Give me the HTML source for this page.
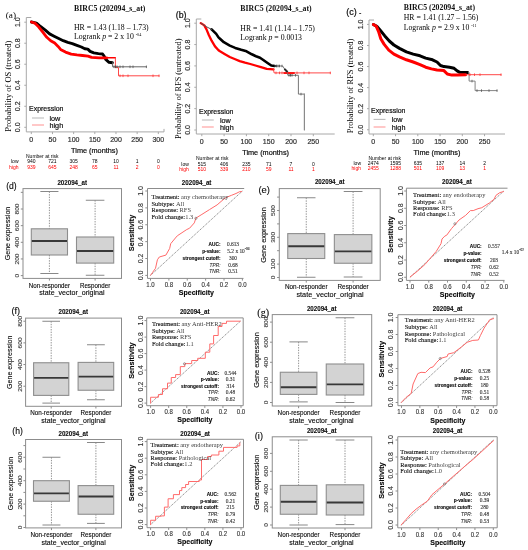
<!DOCTYPE html>
<html><head><meta charset="utf-8"><title>BIRC5 figure</title>
<style>
html,body{margin:0;padding:0;background:#fff;}
body{width:528px;height:550px;overflow:hidden;}
svg{display:block;filter:blur(0.3px);}
.S{font-family:"Liberation Sans", sans-serif;}
text{stroke-width:0.12px;}
.km text{stroke-width:0;}
.km text.S{stroke-width:0.2px;}
.km text.S[font-size="5"]{stroke-width:0;}
.R{font-family:"Liberation Serif", serif;}
</style></head>
<body>
<svg width="528" height="550" viewBox="0 0 528 550">
<rect x="0" y="0" width="528" height="550" fill="#fff"/>
<g class="km">
<line x1="26.30" y1="17.50" x2="26.30" y2="131.90" stroke="#a8a8a8" stroke-width="1"/>
<line x1="26.30" y1="17.50" x2="31.30" y2="17.50" stroke="#a8a8a8" stroke-width="1"/>
<line x1="26.30" y1="131.90" x2="164.00" y2="131.90" stroke="#a8a8a8" stroke-width="1"/>
<line x1="164.00" y1="131.90" x2="164.00" y2="128.90" stroke="#a8a8a8" stroke-width="1"/>
<line x1="24.30" y1="127.30" x2="26.30" y2="127.30" stroke="#a8a8a8" stroke-width="1"/>
<text x="0" y="0" transform="translate(17.50 127.30) rotate(-90)" class="S" font-size="7" text-anchor="middle" fill="#333" stroke="#333" dominant-baseline="central">0.0</text>
<line x1="24.30" y1="106.28" x2="26.30" y2="106.28" stroke="#a8a8a8" stroke-width="1"/>
<text x="0" y="0" transform="translate(17.50 106.28) rotate(-90)" class="S" font-size="7" text-anchor="middle" fill="#333" stroke="#333" dominant-baseline="central">0.2</text>
<line x1="24.30" y1="85.26" x2="26.30" y2="85.26" stroke="#a8a8a8" stroke-width="1"/>
<text x="0" y="0" transform="translate(17.50 85.26) rotate(-90)" class="S" font-size="7" text-anchor="middle" fill="#333" stroke="#333" dominant-baseline="central">0.4</text>
<line x1="24.30" y1="64.24" x2="26.30" y2="64.24" stroke="#a8a8a8" stroke-width="1"/>
<text x="0" y="0" transform="translate(17.50 64.24) rotate(-90)" class="S" font-size="7" text-anchor="middle" fill="#333" stroke="#333" dominant-baseline="central">0.6</text>
<line x1="24.30" y1="43.22" x2="26.30" y2="43.22" stroke="#a8a8a8" stroke-width="1"/>
<text x="0" y="0" transform="translate(17.50 43.22) rotate(-90)" class="S" font-size="7" text-anchor="middle" fill="#333" stroke="#333" dominant-baseline="central">0.8</text>
<line x1="24.30" y1="22.20" x2="26.30" y2="22.20" stroke="#a8a8a8" stroke-width="1"/>
<text x="0" y="0" transform="translate(17.50 22.20) rotate(-90)" class="S" font-size="7" text-anchor="middle" fill="#333" stroke="#333" dominant-baseline="central">1.0</text>
<line x1="31.30" y1="131.90" x2="31.30" y2="134.10" stroke="#a8a8a8" stroke-width="1"/>
<text x="31.30" y="139.40" class="S" font-size="7" text-anchor="middle" fill="#333" stroke="#333" dominant-baseline="central">0</text>
<text x="31.30" y="161.20" class="S" font-size="5" text-anchor="middle" stroke="#222" dominant-baseline="central">940</text>
<text x="31.30" y="166.50" class="S" font-size="5" text-anchor="middle" fill="#f00" stroke="#f00" dominant-baseline="central">939</text>
<line x1="52.47" y1="131.90" x2="52.47" y2="134.10" stroke="#a8a8a8" stroke-width="1"/>
<text x="52.47" y="139.40" class="S" font-size="7" text-anchor="middle" fill="#333" stroke="#333" dominant-baseline="central">50</text>
<text x="52.47" y="161.20" class="S" font-size="5" text-anchor="middle" stroke="#222" dominant-baseline="central">721</text>
<text x="52.47" y="166.50" class="S" font-size="5" text-anchor="middle" fill="#f00" stroke="#f00" dominant-baseline="central">645</text>
<line x1="73.64" y1="131.90" x2="73.64" y2="134.10" stroke="#a8a8a8" stroke-width="1"/>
<text x="73.64" y="139.40" class="S" font-size="7" text-anchor="middle" fill="#333" stroke="#333" dominant-baseline="central">100</text>
<text x="73.64" y="161.20" class="S" font-size="5" text-anchor="middle" stroke="#222" dominant-baseline="central">305</text>
<text x="73.64" y="166.50" class="S" font-size="5" text-anchor="middle" fill="#f00" stroke="#f00" dominant-baseline="central">248</text>
<line x1="94.81" y1="131.90" x2="94.81" y2="134.10" stroke="#a8a8a8" stroke-width="1"/>
<text x="94.81" y="139.40" class="S" font-size="7" text-anchor="middle" fill="#333" stroke="#333" dominant-baseline="central">150</text>
<text x="94.81" y="161.20" class="S" font-size="5" text-anchor="middle" stroke="#222" dominant-baseline="central">78</text>
<text x="94.81" y="166.50" class="S" font-size="5" text-anchor="middle" fill="#f00" stroke="#f00" dominant-baseline="central">65</text>
<line x1="115.98" y1="131.90" x2="115.98" y2="134.10" stroke="#a8a8a8" stroke-width="1"/>
<text x="115.98" y="139.40" class="S" font-size="7" text-anchor="middle" fill="#333" stroke="#333" dominant-baseline="central">200</text>
<text x="115.98" y="161.20" class="S" font-size="5" text-anchor="middle" stroke="#222" dominant-baseline="central">10</text>
<text x="115.98" y="166.50" class="S" font-size="5" text-anchor="middle" fill="#f00" stroke="#f00" dominant-baseline="central">11</text>
<line x1="137.15" y1="131.90" x2="137.15" y2="134.10" stroke="#a8a8a8" stroke-width="1"/>
<text x="137.15" y="139.40" class="S" font-size="7" text-anchor="middle" fill="#333" stroke="#333" dominant-baseline="central">250</text>
<text x="137.15" y="161.20" class="S" font-size="5" text-anchor="middle" stroke="#222" dominant-baseline="central">1</text>
<text x="137.15" y="166.50" class="S" font-size="5" text-anchor="middle" fill="#f00" stroke="#f00" dominant-baseline="central">2</text>
<line x1="158.32" y1="131.90" x2="158.32" y2="134.10" stroke="#a8a8a8" stroke-width="1"/>
<text x="158.32" y="139.40" class="S" font-size="7" text-anchor="middle" fill="#333" stroke="#333" dominant-baseline="central">300</text>
<text x="158.32" y="161.20" class="S" font-size="5" text-anchor="middle" stroke="#222" dominant-baseline="central">0</text>
<text x="158.32" y="166.50" class="S" font-size="5" text-anchor="middle" fill="#f00" stroke="#f00" dominant-baseline="central">0</text>
<text x="18.50" y="161.20" class="S" font-size="5" text-anchor="end" stroke="#222" dominant-baseline="central">low</text>
<text x="18.50" y="166.50" class="S" font-size="5" text-anchor="end" fill="#f00" stroke="#f00" dominant-baseline="central">high</text>
<text x="26.00" y="156.00" class="S" font-size="5" stroke="#222" dominant-baseline="central">Number at risk</text>
<text x="94.50" y="150.00" class="S" font-size="7.3" text-anchor="middle" stroke="#222" dominant-baseline="central">Time (months)</text>
<text x="0" y="0" transform="translate(8.30 86.20) rotate(-90)" class="R" font-size="8.5" text-anchor="middle" stroke="#222" dominant-baseline="central">Probability of OS (treated)</text>
<text x="0" y="0" transform="translate(29.00 108.50) scale(0.930 1)" class="S" font-size="7.5" stroke="#222" dominant-baseline="central">Expression</text>
<line x1="32.00" y1="118.00" x2="44.00" y2="118.00" stroke="#bdbdbd" stroke-width="1.1"/>
<line x1="32.00" y1="125.00" x2="44.00" y2="125.00" stroke="#ff9c9c" stroke-width="1.1"/>
<text x="0" y="0" transform="translate(49.50 118.00) scale(0.950 1)" class="S" font-size="7.6" stroke="#222" dominant-baseline="central">low</text>
<text x="0" y="0" transform="translate(49.50 125.00) scale(0.950 1)" class="S" font-size="7.6" stroke="#222" dominant-baseline="central">high</text>
<text x="0" y="0" transform="translate(74.00 8.30) scale(0.930 1)" class="R" font-size="8.4" font-weight="bold" fill="#111" stroke="#111" dominant-baseline="central">BIRC5 (202094_s_at)</text>
<text x="0" y="0" transform="translate(74.00 27.00) scale(0.925 1)" class="R" font-size="8.4" stroke="#222" dominant-baseline="central">HR = 1.43 (1.18 – 1.73)</text>
<text x="0" y="0" transform="translate(74.00 36.30) scale(0.925 1)" class="R" font-size="8.4" stroke="#222" dominant-baseline="central">Logrank <tspan font-style="italic">p</tspan> = 2 x 10 <tspan font-size="4.5" dy="-2.5">-04</tspan></text>
<text x="5.80" y="14.60" class="R" font-size="9.2" stroke="#222" dominant-baseline="central">(a)</text>
<polyline points="31.40,22.00 36.50,23.10 40.50,26.50 45.00,29.90 49.60,33.90 54.10,36.20 58.70,38.50 63.20,40.70 67.80,42.40 72.30,43.60 76.90,45.30 81.40,47.00 84.80,48.70 87.80,49.10 90.10,51.40 93.80,52.90 98.40,53.60 102.60,54.00 103.70,55.50 106.00,59.70 109.00,62.30 112.40,62.70" fill="none" stroke="#000" stroke-width="2.9" stroke-linejoin="round" stroke-linecap="round"/>
<polyline points="31.40,22.00 34.80,23.10 38.80,27.10 42.80,32.20 46.80,37.30 50.70,40.70 54.70,43.00 58.10,46.40 61.00,49.80 65.50,52.10 71.20,54.10 76.90,54.90 82.50,55.50 88.00,56.10 91.60,57.40 99.20,57.80 106.70,57.80" fill="none" stroke="#f00" stroke-width="2.8" stroke-linejoin="round" stroke-linecap="round"/>
<polyline points="106.70,57.80 115.20,57.80" fill="none" stroke="#f00" stroke-width="1.6" stroke-linejoin="round" stroke-linecap="round"/>
<polyline points="112.60,62.70 112.60,66.80 146.40,66.80" fill="none" stroke="#666" stroke-width="1.0" stroke-linejoin="round" stroke-linecap="round" stroke-linecap="butt" stroke-linejoin="miter"/>
<polyline points="115.40,57.80 115.40,67.60 118.50,67.60 118.50,75.80 159.00,75.80" fill="none" stroke="#f33" stroke-width="0.9" stroke-linejoin="round" stroke-linecap="round" stroke-linecap="butt" stroke-linejoin="miter"/>
<line x1="114.00" y1="65.50" x2="114.00" y2="68.10" stroke="#444" stroke-width="0.8"/>
<line x1="115.50" y1="65.50" x2="115.50" y2="68.10" stroke="#444" stroke-width="0.8"/>
<line x1="117.00" y1="65.50" x2="117.00" y2="68.10" stroke="#444" stroke-width="0.8"/>
<line x1="120.00" y1="65.50" x2="120.00" y2="68.10" stroke="#555" stroke-width="0.8"/>
<line x1="123.00" y1="65.50" x2="123.00" y2="68.10" stroke="#555" stroke-width="0.8"/>
<line x1="130.00" y1="65.50" x2="130.00" y2="68.10" stroke="#555" stroke-width="0.8"/>
<line x1="133.00" y1="65.50" x2="133.00" y2="68.10" stroke="#555" stroke-width="0.8"/>
<line x1="146.40" y1="65.50" x2="146.40" y2="68.10" stroke="#555" stroke-width="0.8"/>
<line x1="120.00" y1="74.50" x2="120.00" y2="77.10" stroke="#f33" stroke-width="0.8"/>
<line x1="123.00" y1="74.50" x2="123.00" y2="77.10" stroke="#f33" stroke-width="0.8"/>
<line x1="128.00" y1="74.50" x2="128.00" y2="77.10" stroke="#f33" stroke-width="0.8"/>
<line x1="153.00" y1="74.50" x2="153.00" y2="77.10" stroke="#f33" stroke-width="0.8"/>
<line x1="159.00" y1="74.50" x2="159.00" y2="77.10" stroke="#f33" stroke-width="0.8"/>
<line x1="196.30" y1="19.00" x2="196.30" y2="134.00" stroke="#a8a8a8" stroke-width="1"/>
<line x1="196.30" y1="19.00" x2="201.30" y2="19.00" stroke="#a8a8a8" stroke-width="1"/>
<line x1="196.30" y1="134.00" x2="334.70" y2="134.00" stroke="#a8a8a8" stroke-width="1"/>
<line x1="194.30" y1="130.00" x2="196.30" y2="130.00" stroke="#a8a8a8" stroke-width="1"/>
<text x="0" y="0" transform="translate(187.50 130.00) rotate(-90)" class="S" font-size="7" text-anchor="middle" fill="#333" stroke="#333" dominant-baseline="central">0.0</text>
<line x1="194.30" y1="108.64" x2="196.30" y2="108.64" stroke="#a8a8a8" stroke-width="1"/>
<text x="0" y="0" transform="translate(187.50 108.64) rotate(-90)" class="S" font-size="7" text-anchor="middle" fill="#333" stroke="#333" dominant-baseline="central">0.2</text>
<line x1="194.30" y1="87.28" x2="196.30" y2="87.28" stroke="#a8a8a8" stroke-width="1"/>
<text x="0" y="0" transform="translate(187.50 87.28) rotate(-90)" class="S" font-size="7" text-anchor="middle" fill="#333" stroke="#333" dominant-baseline="central">0.4</text>
<line x1="194.30" y1="65.92" x2="196.30" y2="65.92" stroke="#a8a8a8" stroke-width="1"/>
<text x="0" y="0" transform="translate(187.50 65.92) rotate(-90)" class="S" font-size="7" text-anchor="middle" fill="#333" stroke="#333" dominant-baseline="central">0.6</text>
<line x1="194.30" y1="44.56" x2="196.30" y2="44.56" stroke="#a8a8a8" stroke-width="1"/>
<text x="0" y="0" transform="translate(187.50 44.56) rotate(-90)" class="S" font-size="7" text-anchor="middle" fill="#333" stroke="#333" dominant-baseline="central">0.8</text>
<line x1="194.30" y1="23.20" x2="196.30" y2="23.20" stroke="#a8a8a8" stroke-width="1"/>
<text x="0" y="0" transform="translate(187.50 23.20) rotate(-90)" class="S" font-size="7" text-anchor="middle" fill="#333" stroke="#333" dominant-baseline="central">1.0</text>
<line x1="201.80" y1="134.00" x2="201.80" y2="136.20" stroke="#a8a8a8" stroke-width="1"/>
<text x="201.80" y="141.90" class="S" font-size="7" text-anchor="middle" fill="#333" stroke="#333" dominant-baseline="central">0</text>
<text x="201.80" y="163.60" class="S" font-size="5" text-anchor="middle" stroke="#222" dominant-baseline="central">515</text>
<text x="201.80" y="169.20" class="S" font-size="5" text-anchor="middle" fill="#f00" stroke="#f00" dominant-baseline="central">510</text>
<line x1="224.10" y1="134.00" x2="224.10" y2="136.20" stroke="#a8a8a8" stroke-width="1"/>
<text x="224.10" y="141.90" class="S" font-size="7" text-anchor="middle" fill="#333" stroke="#333" dominant-baseline="central">50</text>
<text x="224.10" y="163.60" class="S" font-size="5" text-anchor="middle" stroke="#222" dominant-baseline="central">406</text>
<text x="224.10" y="169.20" class="S" font-size="5" text-anchor="middle" fill="#f00" stroke="#f00" dominant-baseline="central">339</text>
<line x1="246.40" y1="134.00" x2="246.40" y2="136.20" stroke="#a8a8a8" stroke-width="1"/>
<text x="246.40" y="141.90" class="S" font-size="7" text-anchor="middle" fill="#333" stroke="#333" dominant-baseline="central">100</text>
<text x="246.40" y="163.60" class="S" font-size="5" text-anchor="middle" stroke="#222" dominant-baseline="central">235</text>
<text x="246.40" y="169.20" class="S" font-size="5" text-anchor="middle" fill="#f00" stroke="#f00" dominant-baseline="central">210</text>
<line x1="268.70" y1="134.00" x2="268.70" y2="136.20" stroke="#a8a8a8" stroke-width="1"/>
<text x="268.70" y="141.90" class="S" font-size="7" text-anchor="middle" fill="#333" stroke="#333" dominant-baseline="central">150</text>
<text x="268.70" y="163.60" class="S" font-size="5" text-anchor="middle" stroke="#222" dominant-baseline="central">71</text>
<text x="268.70" y="169.20" class="S" font-size="5" text-anchor="middle" fill="#f00" stroke="#f00" dominant-baseline="central">59</text>
<line x1="291.00" y1="134.00" x2="291.00" y2="136.20" stroke="#a8a8a8" stroke-width="1"/>
<text x="291.00" y="141.90" class="S" font-size="7" text-anchor="middle" fill="#333" stroke="#333" dominant-baseline="central">200</text>
<text x="291.00" y="163.60" class="S" font-size="5" text-anchor="middle" stroke="#222" dominant-baseline="central">7</text>
<text x="291.00" y="169.20" class="S" font-size="5" text-anchor="middle" fill="#f00" stroke="#f00" dominant-baseline="central">11</text>
<line x1="313.30" y1="134.00" x2="313.30" y2="136.20" stroke="#a8a8a8" stroke-width="1"/>
<text x="313.30" y="141.90" class="S" font-size="7" text-anchor="middle" fill="#333" stroke="#333" dominant-baseline="central">250</text>
<text x="313.30" y="163.60" class="S" font-size="5" text-anchor="middle" stroke="#222" dominant-baseline="central">0</text>
<text x="313.30" y="169.20" class="S" font-size="5" text-anchor="middle" fill="#f00" stroke="#f00" dominant-baseline="central">1</text>
<text x="188.80" y="163.60" class="S" font-size="5" text-anchor="end" stroke="#222" dominant-baseline="central">low</text>
<text x="188.80" y="169.20" class="S" font-size="5" text-anchor="end" fill="#f00" stroke="#f00" dominant-baseline="central">high</text>
<text x="196.00" y="158.30" class="S" font-size="5" stroke="#222" dominant-baseline="central">Number at risk</text>
<text x="265.60" y="152.50" class="S" font-size="7.3" text-anchor="middle" stroke="#222" dominant-baseline="central">Time (months)</text>
<text x="0" y="0" transform="translate(178.30 88.80) rotate(-90)" class="R" font-size="8.25" text-anchor="middle" stroke="#222" dominant-baseline="central">Probability of RFS (untreated)</text>
<text x="0" y="0" transform="translate(199.00 111.00) scale(0.930 1)" class="S" font-size="7.5" stroke="#222" dominant-baseline="central">Expression</text>
<line x1="201.90" y1="120.00" x2="213.75" y2="120.00" stroke="#bdbdbd" stroke-width="1.1"/>
<line x1="201.90" y1="127.00" x2="213.75" y2="127.00" stroke="#ff9c9c" stroke-width="1.1"/>
<text x="0" y="0" transform="translate(220.00 120.00) scale(0.950 1)" class="S" font-size="7.6" stroke="#222" dominant-baseline="central">low</text>
<text x="0" y="0" transform="translate(220.00 127.00) scale(0.950 1)" class="S" font-size="7.6" stroke="#222" dominant-baseline="central">high</text>
<text x="0" y="0" transform="translate(240.30 8.90) scale(0.930 1)" class="R" font-size="8.4" font-weight="bold" fill="#111" stroke="#111" dominant-baseline="central">BIRC5 (202094_s_at)</text>
<text x="0" y="0" transform="translate(240.30 28.40) scale(0.925 1)" class="R" font-size="8.4" stroke="#222" dominant-baseline="central">HR = 1.41 (1.14 – 1.75)</text>
<text x="0" y="0" transform="translate(240.30 37.30) scale(0.925 1)" class="R" font-size="8.4" stroke="#222" dominant-baseline="central">Logrank <tspan font-style="italic">p</tspan> = 0.0013</text>
<text x="175.80" y="15.00" class="S" font-size="8.8" stroke="#222" dominant-baseline="central">(b)</text>
<polyline points="211.60,29.40 216.20,33.90 218.50,37.40 220.00,38.80 223.80,42.20 229.80,45.60 235.20,47.90 241.20,49.80 246.50,51.30 251.80,54.30 256.00,56.20 260.00,57.70 263.30,60.00 267.90,63.20 271.30,65.50 274.70,66.00" fill="none" stroke="#000" stroke-width="2.6" stroke-linejoin="round" stroke-linecap="round"/>
<polyline points="200.80,23.10 204.30,25.40 206.50,29.40 208.80,35.00 211.60,40.70 215.00,46.40 218.50,50.20 220.00,51.30 224.50,53.90 229.80,57.00 235.20,59.20 239.70,61.10 245.00,62.70 250.30,64.00 255.40,65.50 261.00,67.20 266.70,68.90 273.50,69.40" fill="none" stroke="#f00" stroke-width="2.3" stroke-linejoin="round" stroke-linecap="round"/>
<polyline points="284.30,72.90 294.00,72.90" fill="none" stroke="#f00" stroke-width="2.0" stroke-linejoin="round" stroke-linecap="round"/>
<polyline points="284.90,69.40 287.20,71.70" fill="none" stroke="#000" stroke-width="2.0" stroke-linejoin="round" stroke-linecap="round"/>
<polyline points="200.80,23.10 206.00,26.50 211.60,29.40" fill="none" stroke="#555" stroke-width="1.0" stroke-linejoin="round" stroke-linecap="round" stroke-linecap="butt" stroke-linejoin="miter"/>
<polyline points="274.70,66.00 282.60,66.00 284.90,69.40 287.20,71.70 287.80,75.30 298.40,75.30 298.40,94.10 304.40,94.10" fill="none" stroke="#666" stroke-width="0.9" stroke-linejoin="round" stroke-linecap="round" stroke-linecap="butt" stroke-linejoin="miter"/>
<polyline points="304.40,94.10 304.40,130.00" fill="none" stroke="#8a8a8a" stroke-width="1.2" stroke-linejoin="round" stroke-linecap="round" stroke-linecap="butt" stroke-linejoin="miter"/>
<polyline points="273.50,69.40 274.10,72.90 330.30,72.90" fill="none" stroke="#f33" stroke-width="0.9" stroke-linejoin="round" stroke-linecap="round" stroke-linecap="butt" stroke-linejoin="miter"/>
<line x1="276.50" y1="64.70" x2="276.50" y2="67.30" stroke="#333" stroke-width="0.8"/>
<line x1="278.00" y1="64.70" x2="278.00" y2="67.30" stroke="#333" stroke-width="0.8"/>
<line x1="279.50" y1="64.70" x2="279.50" y2="67.30" stroke="#444" stroke-width="0.8"/>
<line x1="282.00" y1="64.70" x2="282.00" y2="67.30" stroke="#555" stroke-width="0.8"/>
<line x1="289.00" y1="74.00" x2="289.00" y2="76.60" stroke="#444" stroke-width="0.8"/>
<line x1="290.50" y1="74.00" x2="290.50" y2="76.60" stroke="#444" stroke-width="0.8"/>
<line x1="292.00" y1="74.00" x2="292.00" y2="76.60" stroke="#444" stroke-width="0.8"/>
<line x1="295.50" y1="74.00" x2="295.50" y2="76.60" stroke="#555" stroke-width="0.8"/>
<line x1="301.00" y1="92.80" x2="301.00" y2="95.40" stroke="#555" stroke-width="0.8"/>
<line x1="276.00" y1="71.60" x2="276.00" y2="74.20" stroke="#f33" stroke-width="0.8"/>
<line x1="279.50" y1="71.60" x2="279.50" y2="74.20" stroke="#f33" stroke-width="0.8"/>
<line x1="282.00" y1="71.60" x2="282.00" y2="74.20" stroke="#f33" stroke-width="0.8"/>
<line x1="297.00" y1="71.60" x2="297.00" y2="74.20" stroke="#f33" stroke-width="0.8"/>
<line x1="304.00" y1="71.60" x2="304.00" y2="74.20" stroke="#f33" stroke-width="0.8"/>
<line x1="309.00" y1="71.60" x2="309.00" y2="74.20" stroke="#f33" stroke-width="0.8"/>
<line x1="330.30" y1="71.60" x2="330.30" y2="74.20" stroke="#f33" stroke-width="0.8"/>
<line x1="369.00" y1="20.00" x2="369.00" y2="134.00" stroke="#a8a8a8" stroke-width="1"/>
<line x1="369.00" y1="20.00" x2="374.00" y2="20.00" stroke="#a8a8a8" stroke-width="1"/>
<line x1="369.00" y1="134.00" x2="505.00" y2="134.00" stroke="#a8a8a8" stroke-width="1"/>
<line x1="367.00" y1="129.75" x2="369.00" y2="129.75" stroke="#a8a8a8" stroke-width="1"/>
<text x="0" y="0" transform="translate(360.60 129.75) rotate(-90)" class="S" font-size="7" text-anchor="middle" fill="#333" stroke="#333" dominant-baseline="central">0.0</text>
<line x1="367.00" y1="108.68" x2="369.00" y2="108.68" stroke="#a8a8a8" stroke-width="1"/>
<text x="0" y="0" transform="translate(360.60 108.68) rotate(-90)" class="S" font-size="7" text-anchor="middle" fill="#333" stroke="#333" dominant-baseline="central">0.2</text>
<line x1="367.00" y1="87.61" x2="369.00" y2="87.61" stroke="#a8a8a8" stroke-width="1"/>
<text x="0" y="0" transform="translate(360.60 87.61) rotate(-90)" class="S" font-size="7" text-anchor="middle" fill="#333" stroke="#333" dominant-baseline="central">0.4</text>
<line x1="367.00" y1="66.54" x2="369.00" y2="66.54" stroke="#a8a8a8" stroke-width="1"/>
<text x="0" y="0" transform="translate(360.60 66.54) rotate(-90)" class="S" font-size="7" text-anchor="middle" fill="#333" stroke="#333" dominant-baseline="central">0.6</text>
<line x1="367.00" y1="45.47" x2="369.00" y2="45.47" stroke="#a8a8a8" stroke-width="1"/>
<text x="0" y="0" transform="translate(360.60 45.47) rotate(-90)" class="S" font-size="7" text-anchor="middle" fill="#333" stroke="#333" dominant-baseline="central">0.8</text>
<line x1="367.00" y1="24.40" x2="369.00" y2="24.40" stroke="#a8a8a8" stroke-width="1"/>
<text x="0" y="0" transform="translate(360.60 24.40) rotate(-90)" class="S" font-size="7" text-anchor="middle" fill="#333" stroke="#333" dominant-baseline="central">1.0</text>
<line x1="373.30" y1="134.00" x2="373.30" y2="136.20" stroke="#a8a8a8" stroke-width="1"/>
<text x="373.30" y="141.00" class="S" font-size="7" text-anchor="middle" fill="#333" stroke="#333" dominant-baseline="central">0</text>
<text x="373.30" y="162.70" class="S" font-size="5" text-anchor="middle" stroke="#222" dominant-baseline="central">2474</text>
<text x="373.30" y="167.80" class="S" font-size="5" text-anchor="middle" fill="#f00" stroke="#f00" dominant-baseline="central">2455</text>
<line x1="395.55" y1="134.00" x2="395.55" y2="136.20" stroke="#a8a8a8" stroke-width="1"/>
<text x="395.55" y="141.00" class="S" font-size="7" text-anchor="middle" fill="#333" stroke="#333" dominant-baseline="central">50</text>
<text x="395.55" y="162.70" class="S" font-size="5" text-anchor="middle" stroke="#222" dominant-baseline="central">1595</text>
<text x="395.55" y="167.80" class="S" font-size="5" text-anchor="middle" fill="#f00" stroke="#f00" dominant-baseline="central">1288</text>
<line x1="417.80" y1="134.00" x2="417.80" y2="136.20" stroke="#a8a8a8" stroke-width="1"/>
<text x="417.80" y="141.00" class="S" font-size="7" text-anchor="middle" fill="#333" stroke="#333" dominant-baseline="central">100</text>
<text x="417.80" y="162.70" class="S" font-size="5" text-anchor="middle" stroke="#222" dominant-baseline="central">635</text>
<text x="417.80" y="167.80" class="S" font-size="5" text-anchor="middle" fill="#f00" stroke="#f00" dominant-baseline="central">501</text>
<line x1="440.05" y1="134.00" x2="440.05" y2="136.20" stroke="#a8a8a8" stroke-width="1"/>
<text x="440.05" y="141.00" class="S" font-size="7" text-anchor="middle" fill="#333" stroke="#333" dominant-baseline="central">150</text>
<text x="440.05" y="162.70" class="S" font-size="5" text-anchor="middle" stroke="#222" dominant-baseline="central">137</text>
<text x="440.05" y="167.80" class="S" font-size="5" text-anchor="middle" fill="#f00" stroke="#f00" dominant-baseline="central">109</text>
<line x1="462.30" y1="134.00" x2="462.30" y2="136.20" stroke="#a8a8a8" stroke-width="1"/>
<text x="462.30" y="141.00" class="S" font-size="7" text-anchor="middle" fill="#333" stroke="#333" dominant-baseline="central">200</text>
<text x="462.30" y="162.70" class="S" font-size="5" text-anchor="middle" stroke="#222" dominant-baseline="central">14</text>
<text x="462.30" y="167.80" class="S" font-size="5" text-anchor="middle" fill="#f00" stroke="#f00" dominant-baseline="central">13</text>
<line x1="484.55" y1="134.00" x2="484.55" y2="136.20" stroke="#a8a8a8" stroke-width="1"/>
<text x="484.55" y="141.00" class="S" font-size="7" text-anchor="middle" fill="#333" stroke="#333" dominant-baseline="central">250</text>
<text x="484.55" y="162.70" class="S" font-size="5" text-anchor="middle" stroke="#222" dominant-baseline="central">2</text>
<text x="484.55" y="167.80" class="S" font-size="5" text-anchor="middle" fill="#f00" stroke="#f00" dominant-baseline="central">1</text>
<text x="361.00" y="162.70" class="S" font-size="5" text-anchor="end" stroke="#222" dominant-baseline="central">low</text>
<text x="361.00" y="167.80" class="S" font-size="5" text-anchor="end" fill="#f00" stroke="#f00" dominant-baseline="central">high</text>
<text x="368.50" y="157.60" class="S" font-size="5" stroke="#222" dominant-baseline="central">Number at risk</text>
<text x="437.00" y="152.10" class="S" font-size="7.3" text-anchor="middle" stroke="#222" dominant-baseline="central">Time (months)</text>
<text x="0" y="0" transform="translate(350.30 86.00) rotate(-90)" class="R" font-size="8.45" text-anchor="middle" stroke="#222" dominant-baseline="central">Probability of RFS (treated)</text>
<text x="0" y="0" transform="translate(371.00 110.60) scale(0.930 1)" class="S" font-size="7.5" stroke="#222" dominant-baseline="central">Expression</text>
<line x1="373.60" y1="119.40" x2="385.50" y2="119.40" stroke="#bdbdbd" stroke-width="1.1"/>
<line x1="373.60" y1="127.00" x2="385.50" y2="127.00" stroke="#ff9c9c" stroke-width="1.1"/>
<text x="0" y="0" transform="translate(391.75 119.40) scale(0.950 1)" class="S" font-size="7.6" stroke="#222" dominant-baseline="central">low</text>
<text x="0" y="0" transform="translate(391.75 127.00) scale(0.950 1)" class="S" font-size="7.6" stroke="#222" dominant-baseline="central">high</text>
<text x="0" y="0" transform="translate(403.70 7.70) scale(0.930 1)" class="R" font-size="8.4" font-weight="bold" fill="#111" stroke="#111" dominant-baseline="central">BIRC5 (202094_s_at)</text>
<text x="0" y="0" transform="translate(403.70 17.30) scale(0.925 1)" class="R" font-size="8.4" stroke="#222" dominant-baseline="central">HR = 1.41 (1.27 – 1.56)</text>
<text x="0" y="0" transform="translate(403.70 27.10) scale(0.925 1)" class="R" font-size="8.4" stroke="#222" dominant-baseline="central">Logrank <tspan font-style="italic">p</tspan> = 2.9 x 10 <tspan font-size="4.5" dy="-2.5">-11</tspan></text>
<text x="346.20" y="11.90" class="S" font-size="9.0" stroke="#222" dominant-baseline="central">(c)<tspan dx="2.2" font-size="7">-</tspan></text>
<polyline points="373.40,24.50 376.80,26.30 380.20,30.20 384.80,35.90 389.30,41.00 393.90,45.00 399.50,48.40 406.40,51.80 413.20,54.10 420.00,55.80 425.70,58.10 432.50,59.80 437.00,62.00 440.50,65.50 443.90,66.60 449.50,67.20 454.10,68.30 457.50,71.10 459.80,72.30 467.70,72.60" fill="none" stroke="#000" stroke-width="3.0" stroke-linejoin="round" stroke-linecap="round"/>
<polyline points="373.40,24.50 376.30,26.30 378.50,31.40 380.80,38.80 384.20,44.40 388.80,50.10 393.90,54.10 399.50,56.90 406.40,59.80 413.20,62.00 420.00,64.60 425.70,67.20 431.40,68.90 437.00,70.00 443.90,70.60 447.30,74.00 451.80,75.10 457.50,75.10 465.50,74.80" fill="none" stroke="#f00" stroke-width="3.0" stroke-linejoin="round" stroke-linecap="round"/>
<polyline points="468.50,72.50 469.10,72.50 469.10,81.10 475.10,81.10 475.10,90.60 497.00,90.60" fill="none" stroke="#777" stroke-width="0.9" stroke-linejoin="round" stroke-linecap="round" stroke-linecap="butt" stroke-linejoin="miter"/>
<polyline points="465.80,74.70 501.00,74.70" fill="none" stroke="#f33" stroke-width="0.9" stroke-linejoin="round" stroke-linecap="round" stroke-linecap="butt" stroke-linejoin="miter"/>
<line x1="472.00" y1="79.80" x2="472.00" y2="82.40" stroke="#555" stroke-width="0.8"/>
<line x1="477.00" y1="89.30" x2="477.00" y2="91.90" stroke="#555" stroke-width="0.8"/>
<line x1="481.50" y1="89.30" x2="481.50" y2="91.90" stroke="#555" stroke-width="0.8"/>
<line x1="489.00" y1="89.30" x2="489.00" y2="91.90" stroke="#555" stroke-width="0.8"/>
<line x1="497.00" y1="89.30" x2="497.00" y2="91.90" stroke="#555" stroke-width="0.8"/>
<line x1="470.00" y1="73.40" x2="470.00" y2="76.00" stroke="#f33" stroke-width="0.8"/>
<line x1="474.50" y1="73.40" x2="474.50" y2="76.00" stroke="#f33" stroke-width="0.8"/>
<line x1="480.00" y1="73.40" x2="480.00" y2="76.00" stroke="#f33" stroke-width="0.8"/>
<line x1="501.00" y1="73.40" x2="501.00" y2="76.00" stroke="#f33" stroke-width="0.8"/>
</g>
<rect x="23.00" y="188.60" width="98.50" height="89.80" fill="none" stroke="#8c8c8c" stroke-width="1"/>
<line x1="20.80" y1="275.60" x2="23.00" y2="275.60" stroke="#8c8c8c" stroke-width="1"/>
<text x="0" y="0" transform="translate(17.00 275.60) rotate(-90) scale(1 0.900)" class="S" font-size="6.6" text-anchor="middle" fill="#333" stroke="#333" dominant-baseline="central">0</text>
<line x1="20.80" y1="258.95" x2="23.00" y2="258.95" stroke="#8c8c8c" stroke-width="1"/>
<text x="0" y="0" transform="translate(17.00 258.95) rotate(-90) scale(1 0.900)" class="S" font-size="6.6" text-anchor="middle" fill="#333" stroke="#333" dominant-baseline="central">200</text>
<line x1="20.80" y1="242.30" x2="23.00" y2="242.30" stroke="#8c8c8c" stroke-width="1"/>
<text x="0" y="0" transform="translate(17.00 242.30) rotate(-90) scale(1 0.900)" class="S" font-size="6.6" text-anchor="middle" fill="#333" stroke="#333" dominant-baseline="central">400</text>
<line x1="20.80" y1="225.65" x2="23.00" y2="225.65" stroke="#8c8c8c" stroke-width="1"/>
<text x="0" y="0" transform="translate(17.00 225.65) rotate(-90) scale(1 0.900)" class="S" font-size="6.6" text-anchor="middle" fill="#333" stroke="#333" dominant-baseline="central">600</text>
<line x1="20.80" y1="209.00" x2="23.00" y2="209.00" stroke="#8c8c8c" stroke-width="1"/>
<text x="0" y="0" transform="translate(17.00 209.00) rotate(-90) scale(1 0.900)" class="S" font-size="6.6" text-anchor="middle" fill="#333" stroke="#333" dominant-baseline="central">800</text>
<line x1="20.80" y1="192.35" x2="23.00" y2="192.35" stroke="#8c8c8c" stroke-width="1"/>
<line x1="49.40" y1="191.50" x2="49.40" y2="228.80" stroke="#777" stroke-width="0.8" stroke-dasharray="1.4,1.2"/>
<line x1="49.40" y1="255.00" x2="49.40" y2="273.50" stroke="#777" stroke-width="0.8" stroke-dasharray="1.4,1.2"/>
<line x1="40.35" y1="191.50" x2="58.45" y2="191.50" stroke="#888" stroke-width="1"/>
<line x1="40.35" y1="273.50" x2="58.45" y2="273.50" stroke="#888" stroke-width="1"/>
<rect x="31.30" y="228.80" width="36.20" height="26.20" fill="#d3d3d3" stroke="#8e8e8e" stroke-width="1.1"/>
<line x1="31.80" y1="241.00" x2="67.00" y2="241.00" stroke="#383838" stroke-width="1.9"/>
<line x1="49.40" y1="278.40" x2="49.40" y2="280.60" stroke="#8c8c8c" stroke-width="1"/>
<line x1="95.10" y1="200.25" x2="95.10" y2="237.00" stroke="#777" stroke-width="0.8" stroke-dasharray="1.4,1.2"/>
<line x1="95.10" y1="263.10" x2="95.10" y2="275.25" stroke="#777" stroke-width="0.8" stroke-dasharray="1.4,1.2"/>
<line x1="85.80" y1="200.25" x2="104.40" y2="200.25" stroke="#888" stroke-width="1"/>
<line x1="85.80" y1="275.25" x2="104.40" y2="275.25" stroke="#888" stroke-width="1"/>
<rect x="76.50" y="237.00" width="37.20" height="26.10" fill="#d3d3d3" stroke="#8e8e8e" stroke-width="1.1"/>
<line x1="77.00" y1="251.00" x2="113.20" y2="251.00" stroke="#383838" stroke-width="1.9"/>
<line x1="95.10" y1="278.40" x2="95.10" y2="280.60" stroke="#8c8c8c" stroke-width="1"/>
<text x="0" y="0" transform="translate(49.40 285.10) scale(0.935 1)" class="S" font-size="6.634" text-anchor="middle" stroke="#222" dominant-baseline="central">Non-responder</text>
<text x="0" y="0" transform="translate(95.10 285.10) scale(0.935 1)" class="S" font-size="6.634" text-anchor="middle" stroke="#222" dominant-baseline="central">Responder</text>
<text x="0" y="0" transform="translate(71.90 292.80) scale(0.950 1)" class="S" font-size="7.455" text-anchor="middle" stroke="#222" dominant-baseline="central">state_vector_original</text>
<text x="0" y="0" transform="translate(72.20 182.10) scale(0.925 1)" class="S" font-size="6.7" font-weight="bold" text-anchor="middle" fill="#111" stroke="#111" dominant-baseline="central">202094_at</text>
<text x="0" y="0" transform="translate(7.60 233.50) rotate(-90)" class="S" font-size="7.1" text-anchor="middle" stroke="#222" dominant-baseline="central">Gene expression</text>
<text x="6.20" y="185.60" class="S" font-size="8.6" stroke="#222" dominant-baseline="central">(d)</text>
<rect x="279.30" y="188.60" width="100.90" height="91.80" fill="none" stroke="#8c8c8c" stroke-width="1"/>
<line x1="277.10" y1="277.50" x2="279.30" y2="277.50" stroke="#8c8c8c" stroke-width="1"/>
<text x="0" y="0" transform="translate(273.00 277.50) rotate(-90) scale(1 0.900)" class="S" font-size="6.6" text-anchor="middle" fill="#333" stroke="#333" dominant-baseline="central">0</text>
<line x1="277.10" y1="264.10" x2="279.30" y2="264.10" stroke="#8c8c8c" stroke-width="1"/>
<text x="0" y="0" transform="translate(273.00 264.10) rotate(-90) scale(1 0.900)" class="S" font-size="6.6" text-anchor="middle" fill="#333" stroke="#333" dominant-baseline="central">100</text>
<line x1="277.10" y1="250.70" x2="279.30" y2="250.70" stroke="#8c8c8c" stroke-width="1"/>
<line x1="277.10" y1="237.30" x2="279.30" y2="237.30" stroke="#8c8c8c" stroke-width="1"/>
<text x="0" y="0" transform="translate(273.00 237.30) rotate(-90) scale(1 0.900)" class="S" font-size="6.6" text-anchor="middle" fill="#333" stroke="#333" dominant-baseline="central">300</text>
<line x1="277.10" y1="223.90" x2="279.30" y2="223.90" stroke="#8c8c8c" stroke-width="1"/>
<line x1="277.10" y1="210.50" x2="279.30" y2="210.50" stroke="#8c8c8c" stroke-width="1"/>
<text x="0" y="0" transform="translate(273.00 210.50) rotate(-90) scale(1 0.900)" class="S" font-size="6.6" text-anchor="middle" fill="#333" stroke="#333" dominant-baseline="central">500</text>
<line x1="277.10" y1="197.10" x2="279.30" y2="197.10" stroke="#8c8c8c" stroke-width="1"/>
<line x1="306.25" y1="197.75" x2="306.25" y2="233.60" stroke="#777" stroke-width="0.8" stroke-dasharray="1.4,1.2"/>
<line x1="306.25" y1="258.50" x2="306.25" y2="277.25" stroke="#777" stroke-width="0.8" stroke-dasharray="1.4,1.2"/>
<line x1="297.00" y1="197.75" x2="315.50" y2="197.75" stroke="#888" stroke-width="1"/>
<line x1="297.00" y1="277.25" x2="315.50" y2="277.25" stroke="#888" stroke-width="1"/>
<rect x="287.75" y="233.60" width="37.00" height="24.90" fill="#d3d3d3" stroke="#8e8e8e" stroke-width="1.1"/>
<line x1="288.25" y1="246.25" x2="324.25" y2="246.25" stroke="#383838" stroke-width="1.9"/>
<line x1="306.25" y1="280.40" x2="306.25" y2="282.60" stroke="#8c8c8c" stroke-width="1"/>
<line x1="353.10" y1="191.50" x2="353.10" y2="234.60" stroke="#777" stroke-width="0.8" stroke-dasharray="1.4,1.2"/>
<line x1="353.10" y1="263.25" x2="353.10" y2="277.00" stroke="#777" stroke-width="0.8" stroke-dasharray="1.4,1.2"/>
<line x1="343.73" y1="191.50" x2="362.48" y2="191.50" stroke="#888" stroke-width="1"/>
<line x1="343.73" y1="277.00" x2="362.48" y2="277.00" stroke="#888" stroke-width="1"/>
<rect x="334.35" y="234.60" width="37.50" height="28.65" fill="#d3d3d3" stroke="#8e8e8e" stroke-width="1.1"/>
<line x1="334.85" y1="251.40" x2="371.35" y2="251.40" stroke="#383838" stroke-width="1.9"/>
<line x1="353.10" y1="280.40" x2="353.10" y2="282.60" stroke="#8c8c8c" stroke-width="1"/>
<text x="0" y="0" transform="translate(306.25 286.70) scale(0.935 1)" class="S" font-size="6.848000000000001" text-anchor="middle" stroke="#222" dominant-baseline="central">Non-responder</text>
<text x="0" y="0" transform="translate(353.10 286.70) scale(0.935 1)" class="S" font-size="6.848000000000001" text-anchor="middle" stroke="#222" dominant-baseline="central">Responder</text>
<text x="0" y="0" transform="translate(330.00 294.50) scale(0.950 1)" class="S" font-size="7.665" text-anchor="middle" stroke="#222" dominant-baseline="central">state_vector_original</text>
<text x="0" y="0" transform="translate(329.70 181.80) scale(0.925 1)" class="S" font-size="6.7" font-weight="bold" text-anchor="middle" fill="#111" stroke="#111" dominant-baseline="central">202094_at</text>
<text x="0" y="0" transform="translate(263.50 235.00) rotate(-90)" class="S" font-size="7.35" text-anchor="middle" stroke="#222" dominant-baseline="central">Gene expression</text>
<text x="258.40" y="189.20" class="S" font-size="9.4" stroke="#222" dominant-baseline="central">(e)</text>
<rect x="25.60" y="318.10" width="95.90" height="88.20" fill="none" stroke="#8c8c8c" stroke-width="1"/>
<line x1="23.40" y1="386.23" x2="25.60" y2="386.23" stroke="#8c8c8c" stroke-width="1"/>
<text x="0" y="0" transform="translate(19.70 386.23) rotate(-90) scale(1 0.900)" class="S" font-size="6.6" text-anchor="middle" fill="#333" stroke="#333" dominant-baseline="central">200</text>
<line x1="23.40" y1="364.56" x2="25.60" y2="364.56" stroke="#8c8c8c" stroke-width="1"/>
<text x="0" y="0" transform="translate(19.70 364.56) rotate(-90) scale(1 0.900)" class="S" font-size="6.6" text-anchor="middle" fill="#333" stroke="#333" dominant-baseline="central">400</text>
<line x1="23.40" y1="342.89" x2="25.60" y2="342.89" stroke="#8c8c8c" stroke-width="1"/>
<text x="0" y="0" transform="translate(19.70 342.89) rotate(-90) scale(1 0.900)" class="S" font-size="6.6" text-anchor="middle" fill="#333" stroke="#333" dominant-baseline="central">600</text>
<line x1="23.40" y1="321.22" x2="25.60" y2="321.22" stroke="#8c8c8c" stroke-width="1"/>
<text x="0" y="0" transform="translate(19.70 321.22) rotate(-90) scale(1 0.900)" class="S" font-size="6.6" text-anchor="middle" fill="#333" stroke="#333" dominant-baseline="central">800</text>
<line x1="51.20" y1="321.25" x2="51.20" y2="362.75" stroke="#777" stroke-width="0.8" stroke-dasharray="1.4,1.2"/>
<line x1="51.20" y1="395.40" x2="51.20" y2="403.10" stroke="#777" stroke-width="0.8" stroke-dasharray="1.4,1.2"/>
<line x1="42.40" y1="321.25" x2="60.00" y2="321.25" stroke="#888" stroke-width="1"/>
<line x1="42.40" y1="403.10" x2="60.00" y2="403.10" stroke="#888" stroke-width="1"/>
<rect x="33.60" y="362.75" width="35.20" height="32.65" fill="#d3d3d3" stroke="#8e8e8e" stroke-width="1.1"/>
<line x1="34.10" y1="377.90" x2="68.30" y2="377.90" stroke="#383838" stroke-width="1.9"/>
<line x1="51.20" y1="406.30" x2="51.20" y2="408.50" stroke="#8c8c8c" stroke-width="1"/>
<line x1="95.90" y1="344.75" x2="95.90" y2="362.40" stroke="#777" stroke-width="0.8" stroke-dasharray="1.4,1.2"/>
<line x1="95.90" y1="390.25" x2="95.90" y2="399.75" stroke="#777" stroke-width="0.8" stroke-dasharray="1.4,1.2"/>
<line x1="87.00" y1="344.75" x2="104.80" y2="344.75" stroke="#888" stroke-width="1"/>
<line x1="87.00" y1="399.75" x2="104.80" y2="399.75" stroke="#888" stroke-width="1"/>
<rect x="78.10" y="362.40" width="35.60" height="27.85" fill="#d3d3d3" stroke="#8e8e8e" stroke-width="1.1"/>
<line x1="78.60" y1="376.60" x2="113.20" y2="376.60" stroke="#383838" stroke-width="1.9"/>
<line x1="95.90" y1="406.30" x2="95.90" y2="408.50" stroke="#8c8c8c" stroke-width="1"/>
<text x="0" y="0" transform="translate(51.20 412.40) scale(0.935 1)" class="S" font-size="6.7410000000000005" text-anchor="middle" stroke="#222" dominant-baseline="central">Non-responder</text>
<text x="0" y="0" transform="translate(95.90 412.40) scale(0.935 1)" class="S" font-size="6.7410000000000005" text-anchor="middle" stroke="#222" dominant-baseline="central">Responder</text>
<text x="0" y="0" transform="translate(73.40 420.65) scale(0.950 1)" class="S" font-size="7.3500000000000005" text-anchor="middle" stroke="#222" dominant-baseline="central">state_vector_original</text>
<text x="0" y="0" transform="translate(73.25 311.70) scale(0.925 1)" class="S" font-size="6.7" font-weight="bold" text-anchor="middle" fill="#111" stroke="#111" dominant-baseline="central">202094_at</text>
<text x="0" y="0" transform="translate(9.80 362.30) rotate(-90)" class="S" font-size="7.05" text-anchor="middle" stroke="#222" dominant-baseline="central">Gene expression</text>
<text x="11.50" y="311.40" class="S" font-size="9.2" stroke="#222" dominant-baseline="central">(f)</text>
<rect x="272.25" y="314.60" width="99.45" height="91.40" fill="none" stroke="#8c8c8c" stroke-width="1"/>
<line x1="270.05" y1="402.50" x2="272.25" y2="402.50" stroke="#8c8c8c" stroke-width="1"/>
<text x="0" y="0" transform="translate(265.30 402.50) rotate(-90) scale(1 0.900)" class="S" font-size="6.6" text-anchor="middle" fill="#333" stroke="#333" dominant-baseline="central">0</text>
<line x1="270.05" y1="382.40" x2="272.25" y2="382.40" stroke="#8c8c8c" stroke-width="1"/>
<text x="0" y="0" transform="translate(265.30 382.40) rotate(-90) scale(1 0.900)" class="S" font-size="6.6" text-anchor="middle" fill="#333" stroke="#333" dominant-baseline="central">200</text>
<line x1="270.05" y1="362.30" x2="272.25" y2="362.30" stroke="#8c8c8c" stroke-width="1"/>
<text x="0" y="0" transform="translate(265.30 362.30) rotate(-90) scale(1 0.900)" class="S" font-size="6.6" text-anchor="middle" fill="#333" stroke="#333" dominant-baseline="central">400</text>
<line x1="270.05" y1="342.20" x2="272.25" y2="342.20" stroke="#8c8c8c" stroke-width="1"/>
<text x="0" y="0" transform="translate(265.30 342.20) rotate(-90) scale(1 0.900)" class="S" font-size="6.6" text-anchor="middle" fill="#333" stroke="#333" dominant-baseline="central">600</text>
<line x1="270.05" y1="322.10" x2="272.25" y2="322.10" stroke="#8c8c8c" stroke-width="1"/>
<text x="0" y="0" transform="translate(265.30 322.10) rotate(-90) scale(1 0.900)" class="S" font-size="6.6" text-anchor="middle" fill="#333" stroke="#333" dominant-baseline="central">800</text>
<line x1="298.60" y1="341.90" x2="298.60" y2="372.25" stroke="#777" stroke-width="0.8" stroke-dasharray="1.4,1.2"/>
<line x1="298.60" y1="394.40" x2="298.60" y2="401.90" stroke="#777" stroke-width="0.8" stroke-dasharray="1.4,1.2"/>
<line x1="289.45" y1="341.90" x2="307.75" y2="341.90" stroke="#888" stroke-width="1"/>
<line x1="289.45" y1="401.90" x2="307.75" y2="401.90" stroke="#888" stroke-width="1"/>
<rect x="280.30" y="372.25" width="36.60" height="22.15" fill="#d3d3d3" stroke="#8e8e8e" stroke-width="1.1"/>
<line x1="280.80" y1="387.25" x2="316.40" y2="387.25" stroke="#383838" stroke-width="1.9"/>
<line x1="298.60" y1="406.00" x2="298.60" y2="408.20" stroke="#8c8c8c" stroke-width="1"/>
<line x1="345.00" y1="317.75" x2="345.00" y2="364.00" stroke="#777" stroke-width="0.8" stroke-dasharray="1.4,1.2"/>
<line x1="345.00" y1="395.00" x2="345.00" y2="402.50" stroke="#777" stroke-width="0.8" stroke-dasharray="1.4,1.2"/>
<line x1="335.62" y1="317.75" x2="354.38" y2="317.75" stroke="#888" stroke-width="1"/>
<line x1="335.62" y1="402.50" x2="354.38" y2="402.50" stroke="#888" stroke-width="1"/>
<rect x="326.25" y="364.00" width="37.50" height="31.00" fill="#d3d3d3" stroke="#8e8e8e" stroke-width="1.1"/>
<line x1="326.75" y1="384.40" x2="363.25" y2="384.40" stroke="#383838" stroke-width="1.9"/>
<line x1="345.00" y1="406.00" x2="345.00" y2="408.20" stroke="#8c8c8c" stroke-width="1"/>
<text x="0" y="0" transform="translate(298.60 412.20) scale(0.935 1)" class="S" font-size="6.7410000000000005" text-anchor="middle" stroke="#222" dominant-baseline="central">Non-responder</text>
<text x="0" y="0" transform="translate(345.00 412.20) scale(0.935 1)" class="S" font-size="6.7410000000000005" text-anchor="middle" stroke="#222" dominant-baseline="central">Responder</text>
<text x="0" y="0" transform="translate(321.50 420.90) scale(0.950 1)" class="S" font-size="7.3500000000000005" text-anchor="middle" stroke="#222" dominant-baseline="central">state_vector_original</text>
<text x="0" y="0" transform="translate(321.70 308.30) scale(0.925 1)" class="S" font-size="6.7" font-weight="bold" text-anchor="middle" fill="#111" stroke="#111" dominant-baseline="central">202094_at</text>
<text x="0" y="0" transform="translate(256.10 360.00) rotate(-90)" class="S" font-size="7.35" text-anchor="middle" stroke="#222" dominant-baseline="central">Gene expression</text>
<text x="257.30" y="312.20" class="R" font-size="10" stroke="#222" dominant-baseline="central">(g)</text>
<rect x="25.60" y="439.50" width="95.90" height="88.40" fill="none" stroke="#8c8c8c" stroke-width="1"/>
<line x1="23.40" y1="527.50" x2="25.60" y2="527.50" stroke="#8c8c8c" stroke-width="1"/>
<text x="0" y="0" transform="translate(19.70 527.50) rotate(-90) scale(1 0.900)" class="S" font-size="6.6" text-anchor="middle" fill="#333" stroke="#333" dominant-baseline="central">0</text>
<line x1="23.40" y1="515.80" x2="25.60" y2="515.80" stroke="#8c8c8c" stroke-width="1"/>
<line x1="23.40" y1="504.10" x2="25.60" y2="504.10" stroke="#8c8c8c" stroke-width="1"/>
<text x="0" y="0" transform="translate(19.70 504.10) rotate(-90) scale(1 0.900)" class="S" font-size="6.6" text-anchor="middle" fill="#333" stroke="#333" dominant-baseline="central">200</text>
<line x1="23.40" y1="492.40" x2="25.60" y2="492.40" stroke="#8c8c8c" stroke-width="1"/>
<line x1="23.40" y1="480.70" x2="25.60" y2="480.70" stroke="#8c8c8c" stroke-width="1"/>
<text x="0" y="0" transform="translate(19.70 480.70) rotate(-90) scale(1 0.900)" class="S" font-size="6.6" text-anchor="middle" fill="#333" stroke="#333" dominant-baseline="central">400</text>
<line x1="23.40" y1="469.00" x2="25.60" y2="469.00" stroke="#8c8c8c" stroke-width="1"/>
<line x1="23.40" y1="457.30" x2="25.60" y2="457.30" stroke="#8c8c8c" stroke-width="1"/>
<text x="0" y="0" transform="translate(19.70 457.30) rotate(-90) scale(1 0.900)" class="S" font-size="6.6" text-anchor="middle" fill="#333" stroke="#333" dominant-baseline="central">600</text>
<line x1="23.40" y1="445.60" x2="25.60" y2="445.60" stroke="#8c8c8c" stroke-width="1"/>
<line x1="51.45" y1="457.25" x2="51.45" y2="480.70" stroke="#777" stroke-width="0.8" stroke-dasharray="1.4,1.2"/>
<line x1="51.45" y1="501.25" x2="51.45" y2="525.00" stroke="#777" stroke-width="0.8" stroke-dasharray="1.4,1.2"/>
<line x1="42.48" y1="457.25" x2="60.43" y2="457.25" stroke="#888" stroke-width="1"/>
<line x1="42.48" y1="525.00" x2="60.43" y2="525.00" stroke="#888" stroke-width="1"/>
<rect x="33.50" y="480.70" width="35.90" height="20.55" fill="#d3d3d3" stroke="#8e8e8e" stroke-width="1.1"/>
<line x1="34.00" y1="493.40" x2="68.90" y2="493.40" stroke="#383838" stroke-width="1.9"/>
<line x1="51.45" y1="527.90" x2="51.45" y2="530.10" stroke="#8c8c8c" stroke-width="1"/>
<line x1="95.90" y1="442.50" x2="95.90" y2="485.60" stroke="#777" stroke-width="0.8" stroke-dasharray="1.4,1.2"/>
<line x1="95.90" y1="514.25" x2="95.90" y2="523.40" stroke="#777" stroke-width="0.8" stroke-dasharray="1.4,1.2"/>
<line x1="87.00" y1="442.50" x2="104.80" y2="442.50" stroke="#888" stroke-width="1"/>
<line x1="87.00" y1="523.40" x2="104.80" y2="523.40" stroke="#888" stroke-width="1"/>
<rect x="78.10" y="485.60" width="35.60" height="28.65" fill="#d3d3d3" stroke="#8e8e8e" stroke-width="1.1"/>
<line x1="78.60" y1="496.50" x2="113.20" y2="496.50" stroke="#383838" stroke-width="1.9"/>
<line x1="95.90" y1="527.90" x2="95.90" y2="530.10" stroke="#8c8c8c" stroke-width="1"/>
<text x="0" y="0" transform="translate(51.45 534.45) scale(0.935 1)" class="S" font-size="6.7410000000000005" text-anchor="middle" stroke="#222" dominant-baseline="central">Non-responder</text>
<text x="0" y="0" transform="translate(95.90 534.45) scale(0.935 1)" class="S" font-size="6.7410000000000005" text-anchor="middle" stroke="#222" dominant-baseline="central">Responder</text>
<text x="0" y="0" transform="translate(73.60 542.50) scale(0.950 1)" class="S" font-size="7.3500000000000005" text-anchor="middle" stroke="#222" dominant-baseline="central">state_vector_original</text>
<text x="0" y="0" transform="translate(73.25 433.30) scale(0.925 1)" class="S" font-size="6.7" font-weight="bold" text-anchor="middle" fill="#111" stroke="#111" dominant-baseline="central">202094_at</text>
<text x="0" y="0" transform="translate(10.50 483.50) rotate(-90)" class="S" font-size="7.08" text-anchor="middle" stroke="#222" dominant-baseline="central">Gene expression</text>
<text x="12.30" y="430.60" class="S" font-size="8.6" stroke="#222" dominant-baseline="central">(h)</text>
<rect x="272.25" y="436.80" width="99.45" height="91.20" fill="none" stroke="#8c8c8c" stroke-width="1"/>
<line x1="270.05" y1="525.00" x2="272.25" y2="525.00" stroke="#8c8c8c" stroke-width="1"/>
<text x="0" y="0" transform="translate(265.30 525.00) rotate(-90) scale(1 0.900)" class="S" font-size="6.6" text-anchor="middle" fill="#333" stroke="#333" dominant-baseline="central">0</text>
<line x1="270.05" y1="507.10" x2="272.25" y2="507.10" stroke="#8c8c8c" stroke-width="1"/>
<text x="0" y="0" transform="translate(265.30 507.10) rotate(-90) scale(1 0.900)" class="S" font-size="6.6" text-anchor="middle" fill="#333" stroke="#333" dominant-baseline="central">200</text>
<line x1="270.05" y1="489.20" x2="272.25" y2="489.20" stroke="#8c8c8c" stroke-width="1"/>
<text x="0" y="0" transform="translate(265.30 489.20) rotate(-90) scale(1 0.900)" class="S" font-size="6.6" text-anchor="middle" fill="#333" stroke="#333" dominant-baseline="central">400</text>
<line x1="270.05" y1="471.30" x2="272.25" y2="471.30" stroke="#8c8c8c" stroke-width="1"/>
<text x="0" y="0" transform="translate(265.30 471.30) rotate(-90) scale(1 0.900)" class="S" font-size="6.6" text-anchor="middle" fill="#333" stroke="#333" dominant-baseline="central">600</text>
<line x1="270.05" y1="453.40" x2="272.25" y2="453.40" stroke="#8c8c8c" stroke-width="1"/>
<text x="0" y="0" transform="translate(265.30 453.40) rotate(-90) scale(1 0.900)" class="S" font-size="6.6" text-anchor="middle" fill="#333" stroke="#333" dominant-baseline="central">800</text>
<line x1="298.60" y1="440.00" x2="298.60" y2="485.40" stroke="#777" stroke-width="0.8" stroke-dasharray="1.4,1.2"/>
<line x1="298.60" y1="514.25" x2="298.60" y2="525.00" stroke="#777" stroke-width="0.8" stroke-dasharray="1.4,1.2"/>
<line x1="289.45" y1="440.00" x2="307.75" y2="440.00" stroke="#888" stroke-width="1"/>
<line x1="289.45" y1="525.00" x2="307.75" y2="525.00" stroke="#888" stroke-width="1"/>
<rect x="280.30" y="485.40" width="36.60" height="28.85" fill="#d3d3d3" stroke="#8e8e8e" stroke-width="1.1"/>
<line x1="280.80" y1="501.75" x2="316.40" y2="501.75" stroke="#383838" stroke-width="1.9"/>
<line x1="298.60" y1="528.00" x2="298.60" y2="530.20" stroke="#8c8c8c" stroke-width="1"/>
<line x1="345.00" y1="440.00" x2="345.00" y2="484.80" stroke="#777" stroke-width="0.8" stroke-dasharray="1.4,1.2"/>
<line x1="345.00" y1="515.00" x2="345.00" y2="524.60" stroke="#777" stroke-width="0.8" stroke-dasharray="1.4,1.2"/>
<line x1="335.62" y1="440.00" x2="354.38" y2="440.00" stroke="#888" stroke-width="1"/>
<line x1="335.62" y1="524.60" x2="354.38" y2="524.60" stroke="#888" stroke-width="1"/>
<rect x="326.25" y="484.80" width="37.50" height="30.20" fill="#d3d3d3" stroke="#8e8e8e" stroke-width="1.1"/>
<line x1="326.75" y1="502.50" x2="363.25" y2="502.50" stroke="#383838" stroke-width="1.9"/>
<line x1="345.00" y1="528.00" x2="345.00" y2="530.20" stroke="#8c8c8c" stroke-width="1"/>
<text x="0" y="0" transform="translate(298.60 534.70) scale(0.935 1)" class="S" font-size="6.7410000000000005" text-anchor="middle" stroke="#222" dominant-baseline="central">Non-responder</text>
<text x="0" y="0" transform="translate(345.00 534.70) scale(0.935 1)" class="S" font-size="6.7410000000000005" text-anchor="middle" stroke="#222" dominant-baseline="central">Responder</text>
<text x="0" y="0" transform="translate(321.50 542.90) scale(0.950 1)" class="S" font-size="7.3500000000000005" text-anchor="middle" stroke="#222" dominant-baseline="central">state_vector_original</text>
<text x="0" y="0" transform="translate(321.70 430.30) scale(0.925 1)" class="S" font-size="6.7" font-weight="bold" text-anchor="middle" fill="#111" stroke="#111" dominant-baseline="central">202094_at</text>
<text x="0" y="0" transform="translate(256.50 482.30) rotate(-90)" class="S" font-size="7.35" text-anchor="middle" stroke="#222" dominant-baseline="central">Gene expression</text>
<text x="254.80" y="435.60" class="S" font-size="9.2" stroke="#222" dominant-baseline="central">(i)</text>
<line x1="147.50" y1="188.50" x2="244.20" y2="188.50" stroke="#8c8c8c" stroke-width="1"/>
<line x1="147.50" y1="188.50" x2="147.50" y2="278.40" stroke="#8c8c8c" stroke-width="1"/>
<line x1="147.50" y1="278.40" x2="243.50" y2="278.40" stroke="#8c8c8c" stroke-width="1"/>
<line x1="145.30" y1="275.40" x2="147.50" y2="275.40" stroke="#8c8c8c" stroke-width="1"/>
<text x="0" y="0" transform="translate(141.00 275.40) rotate(-90) scale(1 0.900)" class="S" font-size="7.0" text-anchor="middle" fill="#333" stroke="#333" dominant-baseline="central">0.0</text>
<line x1="150.50" y1="278.40" x2="150.50" y2="280.60" stroke="#8c8c8c" stroke-width="1"/>
<text x="0" y="0" transform="translate(150.50 284.00) scale(0.880 1)" class="S" font-size="6.9" text-anchor="middle" fill="#333" stroke="#333" dominant-baseline="central">1.0</text>
<line x1="145.30" y1="258.52" x2="147.50" y2="258.52" stroke="#8c8c8c" stroke-width="1"/>
<text x="0" y="0" transform="translate(141.00 258.52) rotate(-90) scale(1 0.900)" class="S" font-size="7.0" text-anchor="middle" fill="#333" stroke="#333" dominant-baseline="central">0.2</text>
<line x1="168.88" y1="278.40" x2="168.88" y2="280.60" stroke="#8c8c8c" stroke-width="1"/>
<text x="0" y="0" transform="translate(168.88 284.00) scale(0.880 1)" class="S" font-size="6.9" text-anchor="middle" fill="#333" stroke="#333" dominant-baseline="central">0.8</text>
<line x1="145.30" y1="241.64" x2="147.50" y2="241.64" stroke="#8c8c8c" stroke-width="1"/>
<text x="0" y="0" transform="translate(141.00 241.64) rotate(-90) scale(1 0.900)" class="S" font-size="7.0" text-anchor="middle" fill="#333" stroke="#333" dominant-baseline="central">0.4</text>
<line x1="187.26" y1="278.40" x2="187.26" y2="280.60" stroke="#8c8c8c" stroke-width="1"/>
<text x="0" y="0" transform="translate(187.26 284.00) scale(0.880 1)" class="S" font-size="6.9" text-anchor="middle" fill="#333" stroke="#333" dominant-baseline="central">0.6</text>
<line x1="145.30" y1="224.76" x2="147.50" y2="224.76" stroke="#8c8c8c" stroke-width="1"/>
<text x="0" y="0" transform="translate(141.00 224.76) rotate(-90) scale(1 0.900)" class="S" font-size="7.0" text-anchor="middle" fill="#333" stroke="#333" dominant-baseline="central">0.6</text>
<line x1="205.64" y1="278.40" x2="205.64" y2="280.60" stroke="#8c8c8c" stroke-width="1"/>
<text x="0" y="0" transform="translate(205.64 284.00) scale(0.880 1)" class="S" font-size="6.9" text-anchor="middle" fill="#333" stroke="#333" dominant-baseline="central">0.4</text>
<line x1="145.30" y1="207.88" x2="147.50" y2="207.88" stroke="#8c8c8c" stroke-width="1"/>
<text x="0" y="0" transform="translate(141.00 207.88) rotate(-90) scale(1 0.900)" class="S" font-size="7.0" text-anchor="middle" fill="#333" stroke="#333" dominant-baseline="central">0.8</text>
<line x1="224.02" y1="278.40" x2="224.02" y2="280.60" stroke="#8c8c8c" stroke-width="1"/>
<text x="0" y="0" transform="translate(224.02 284.00) scale(0.880 1)" class="S" font-size="6.9" text-anchor="middle" fill="#333" stroke="#333" dominant-baseline="central">0.2</text>
<line x1="145.30" y1="191.00" x2="147.50" y2="191.00" stroke="#8c8c8c" stroke-width="1"/>
<text x="0" y="0" transform="translate(141.00 191.00) rotate(-90) scale(1 0.900)" class="S" font-size="7.0" text-anchor="middle" fill="#333" stroke="#333" dominant-baseline="central">1.0</text>
<line x1="242.40" y1="278.40" x2="242.40" y2="280.60" stroke="#8c8c8c" stroke-width="1"/>
<text x="0" y="0" transform="translate(242.40 284.00) scale(0.880 1)" class="S" font-size="6.9" text-anchor="middle" fill="#333" stroke="#333" dominant-baseline="central">0.0</text>
<line x1="150.50" y1="275.40" x2="242.40" y2="191.00" stroke="#555" stroke-width="0.7" stroke-dasharray="1.2,0.9"/>
<polyline points="150.60,275.20 152.50,272.50 155.50,268.30 157.40,259.80 159.30,257.00 165.90,255.10 169.70,248.40 170.70,243.70 175.40,238.00 177.30,235.80 186.80,229.50 189.60,228.20 194.30,222.90 195.90,218.10 201.90,214.40 209.50,209.60 217.10,204.90 223.70,199.20 226.50,197.30 231.30,195.40 236.00,193.50 239.80,191.60 241.70,191.60" fill="none" stroke="#ff6a6a" stroke-width="1.0" stroke-linejoin="round" stroke-linecap="round"/>
<circle cx="195.9" cy="218.3" r="1.1" fill="none" stroke="#666" stroke-width="0.6"/>
<text x="0" y="0" transform="translate(196.60 182.00) scale(0.925 1)" class="S" font-size="6.7" font-weight="bold" text-anchor="middle" fill="#111" stroke="#111" dominant-baseline="central">202094_at</text>
<text x="0" y="0" transform="translate(132.00 233.00) rotate(-90) scale(1 0.950)" class="S" font-size="7.3" font-weight="bold" text-anchor="middle" stroke="#222" dominant-baseline="central">Sensitivity</text>
<text x="0" y="0" transform="translate(196.40 292.10) scale(0.940 1)" class="S" font-size="7.5" font-weight="bold" text-anchor="middle" stroke="#222" dominant-baseline="central">Specificity</text>
<text x="0" y="0" transform="translate(151.50 196.50) scale(0.95 1)" class="R" font-size="6.8" dominant-baseline="central" fill="#111" stroke="#111" stroke-width="0.25">Treatment:</text>
<text x="0" y="0" transform="translate(181.11 196.50) scale(0.95 1)" class="R" font-size="6.8" dominant-baseline="central" fill="#404040" stroke="none">any chemotherapy</text>
<text x="0" y="0" transform="translate(151.50 203.10) scale(0.95 1)" class="R" font-size="6.8" dominant-baseline="central" fill="#111" stroke="#111" stroke-width="0.25">Subtype:</text>
<text x="0" y="0" transform="translate(175.97 203.10) scale(0.95 1)" class="R" font-size="6.8" dominant-baseline="central" fill="#404040" stroke="none">All</text>
<text x="0" y="0" transform="translate(151.50 209.85) scale(0.95 1)" class="R" font-size="6.8" dominant-baseline="central" fill="#111" stroke="#111" stroke-width="0.25">Response:</text>
<text x="0" y="0" transform="translate(179.56 209.85) scale(0.95 1)" class="R" font-size="6.8" dominant-baseline="central" fill="#404040" stroke="none">RFS</text>
<text x="0" y="0" transform="translate(151.50 216.50) scale(0.95 1)" class="R" font-size="6.8" dominant-baseline="central" fill="#111" stroke="#111" stroke-width="0.25">Fold change:</text>
<text x="0" y="0" transform="translate(185.25 216.50) scale(0.95 1)" class="R" font-size="6.8" dominant-baseline="central" fill="#404040" stroke="none">1.3</text>
<text x="0" y="0" transform="translate(220.50 244.40) scale(0.920 1)" class="S" font-size="5.2" font-weight="bold" text-anchor="end" stroke="#222" dominant-baseline="central">AUC:</text>
<text x="0" y="0" transform="translate(233.00 244.40) scale(0.930 1)" class="R" font-size="5.8" text-anchor="middle" fill="#333" stroke="#333" dominant-baseline="central">0.613</text>
<text x="0" y="0" transform="translate(220.50 251.00) scale(0.920 1)" class="S" font-size="5.2" font-weight="bold" text-anchor="end" stroke="#222" dominant-baseline="central">p-value:</text>
<text x="0" y="0" transform="translate(227.30 251.00) scale(0.930 1)" class="R" font-size="5.8" fill="#333" stroke="#333" dominant-baseline="central">5.2 x 10<tspan font-size="3.8" dy="-1.8">-06</tspan></text>
<text x="0" y="0" transform="translate(220.50 257.60) scale(0.920 1)" class="S" font-size="5.2" font-weight="bold" text-anchor="end" stroke="#222" dominant-baseline="central">strongest cutoff:</text>
<text x="0" y="0" transform="translate(233.00 257.60) scale(0.930 1)" class="R" font-size="5.8" text-anchor="middle" fill="#333" stroke="#333" dominant-baseline="central">300</text>
<text x="0" y="0" transform="translate(220.50 264.50) scale(0.920 1)" class="S" font-size="5.2" font-style="italic" text-anchor="end" fill="#333" stroke="#333" dominant-baseline="central">TPR:</text>
<text x="0" y="0" transform="translate(233.00 264.50) scale(0.930 1)" class="R" font-size="5.8" text-anchor="middle" fill="#333" stroke="#333" dominant-baseline="central">0.68</text>
<text x="0" y="0" transform="translate(220.50 270.90) scale(0.920 1)" class="S" font-size="5.2" font-style="italic" text-anchor="end" fill="#333" stroke="#333" dominant-baseline="central">TNR:</text>
<text x="0" y="0" transform="translate(233.00 270.90) scale(0.930 1)" class="R" font-size="5.8" text-anchor="middle" fill="#333" stroke="#333" dominant-baseline="central">0.51</text>
<line x1="406.40" y1="188.20" x2="507.50" y2="188.20" stroke="#8c8c8c" stroke-width="1"/>
<line x1="406.40" y1="188.20" x2="406.40" y2="280.40" stroke="#8c8c8c" stroke-width="1"/>
<line x1="406.40" y1="280.40" x2="504.50" y2="280.40" stroke="#8c8c8c" stroke-width="1"/>
<line x1="404.20" y1="277.25" x2="406.40" y2="277.25" stroke="#8c8c8c" stroke-width="1"/>
<text x="0" y="0" transform="translate(400.60 277.25) rotate(-90) scale(1 0.900)" class="S" font-size="7.0" text-anchor="middle" fill="#333" stroke="#333" dominant-baseline="central">0.0</text>
<line x1="410.00" y1="280.40" x2="410.00" y2="282.60" stroke="#8c8c8c" stroke-width="1"/>
<text x="0" y="0" transform="translate(410.00 286.30) scale(0.880 1)" class="S" font-size="6.9" text-anchor="middle" fill="#333" stroke="#333" dominant-baseline="central">1.0</text>
<line x1="404.20" y1="260.00" x2="406.40" y2="260.00" stroke="#8c8c8c" stroke-width="1"/>
<text x="0" y="0" transform="translate(400.60 260.00) rotate(-90) scale(1 0.900)" class="S" font-size="7.0" text-anchor="middle" fill="#333" stroke="#333" dominant-baseline="central">0.2</text>
<line x1="428.76" y1="280.40" x2="428.76" y2="282.60" stroke="#8c8c8c" stroke-width="1"/>
<text x="0" y="0" transform="translate(428.76 286.30) scale(0.880 1)" class="S" font-size="6.9" text-anchor="middle" fill="#333" stroke="#333" dominant-baseline="central">0.8</text>
<line x1="404.20" y1="242.75" x2="406.40" y2="242.75" stroke="#8c8c8c" stroke-width="1"/>
<text x="0" y="0" transform="translate(400.60 242.75) rotate(-90) scale(1 0.900)" class="S" font-size="7.0" text-anchor="middle" fill="#333" stroke="#333" dominant-baseline="central">0.4</text>
<line x1="447.52" y1="280.40" x2="447.52" y2="282.60" stroke="#8c8c8c" stroke-width="1"/>
<text x="0" y="0" transform="translate(447.52 286.30) scale(0.880 1)" class="S" font-size="6.9" text-anchor="middle" fill="#333" stroke="#333" dominant-baseline="central">0.6</text>
<line x1="404.20" y1="225.50" x2="406.40" y2="225.50" stroke="#8c8c8c" stroke-width="1"/>
<text x="0" y="0" transform="translate(400.60 225.50) rotate(-90) scale(1 0.900)" class="S" font-size="7.0" text-anchor="middle" fill="#333" stroke="#333" dominant-baseline="central">0.6</text>
<line x1="466.28" y1="280.40" x2="466.28" y2="282.60" stroke="#8c8c8c" stroke-width="1"/>
<text x="0" y="0" transform="translate(466.28 286.30) scale(0.880 1)" class="S" font-size="6.9" text-anchor="middle" fill="#333" stroke="#333" dominant-baseline="central">0.4</text>
<line x1="404.20" y1="208.25" x2="406.40" y2="208.25" stroke="#8c8c8c" stroke-width="1"/>
<text x="0" y="0" transform="translate(400.60 208.25) rotate(-90) scale(1 0.900)" class="S" font-size="7.0" text-anchor="middle" fill="#333" stroke="#333" dominant-baseline="central">0.8</text>
<line x1="485.04" y1="280.40" x2="485.04" y2="282.60" stroke="#8c8c8c" stroke-width="1"/>
<text x="0" y="0" transform="translate(485.04 286.30) scale(0.880 1)" class="S" font-size="6.9" text-anchor="middle" fill="#333" stroke="#333" dominant-baseline="central">0.2</text>
<line x1="404.20" y1="191.00" x2="406.40" y2="191.00" stroke="#8c8c8c" stroke-width="1"/>
<text x="0" y="0" transform="translate(400.60 191.00) rotate(-90) scale(1 0.900)" class="S" font-size="7.0" text-anchor="middle" fill="#333" stroke="#333" dominant-baseline="central">1.0</text>
<line x1="503.80" y1="280.40" x2="503.80" y2="282.60" stroke="#8c8c8c" stroke-width="1"/>
<text x="0" y="0" transform="translate(503.80 286.30) scale(0.880 1)" class="S" font-size="6.9" text-anchor="middle" fill="#333" stroke="#333" dominant-baseline="central">0.0</text>
<line x1="410.00" y1="277.25" x2="503.80" y2="191.00" stroke="#555" stroke-width="0.7" stroke-dasharray="1.2,0.9"/>
<polyline points="410.20,276.90 417.40,271.20 424.90,264.50 430.60,257.90 436.30,251.30 441.00,243.70 442.00,239.00 444.80,236.10 446.70,235.20 451.50,228.60 459.00,220.00 465.70,215.30 470.40,210.60 473.20,210.60 478.00,208.70 481.80,207.70 489.30,203.00 494.10,199.20 495.90,195.40 499.80,192.60 503.50,191.60" fill="none" stroke="#ff6a6a" stroke-width="1.0" stroke-linejoin="round" stroke-linecap="round"/>
<circle cx="454.9" cy="223.8" r="1.1" fill="none" stroke="#666" stroke-width="0.6"/>
<text x="0" y="0" transform="translate(456.90 181.70) scale(0.925 1)" class="S" font-size="6.7" font-weight="bold" text-anchor="middle" fill="#111" stroke="#111" dominant-baseline="central">202094_at</text>
<text x="0" y="0" transform="translate(390.70 234.50) rotate(-90) scale(1 0.950)" class="S" font-size="7.3" font-weight="bold" text-anchor="middle" stroke="#222" dominant-baseline="central">Sensitivity</text>
<text x="0" y="0" transform="translate(457.40 294.70) scale(0.940 1)" class="S" font-size="7.5" font-weight="bold" text-anchor="middle" stroke="#222" dominant-baseline="central">Specificity</text>
<text x="0" y="0" transform="translate(413.10 194.35) scale(0.95 1)" class="R" font-size="6.8" dominant-baseline="central" fill="#111" stroke="#111" stroke-width="0.25">Treatment:</text>
<text x="0" y="0" transform="translate(442.71 194.35) scale(0.95 1)" class="R" font-size="6.8" dominant-baseline="central" fill="#404040" stroke="none">any endotherapy</text>
<text x="0" y="0" transform="translate(413.10 201.00) scale(0.95 1)" class="R" font-size="6.8" dominant-baseline="central" fill="#111" stroke="#111" stroke-width="0.25">Subtype:</text>
<text x="0" y="0" transform="translate(437.57 201.00) scale(0.95 1)" class="R" font-size="6.8" dominant-baseline="central" fill="#404040" stroke="none">All</text>
<text x="0" y="0" transform="translate(413.10 207.50) scale(0.95 1)" class="R" font-size="6.8" dominant-baseline="central" fill="#111" stroke="#111" stroke-width="0.25">Response:</text>
<text x="0" y="0" transform="translate(441.16 207.50) scale(0.95 1)" class="R" font-size="6.8" dominant-baseline="central" fill="#404040" stroke="none">RFS</text>
<text x="0" y="0" transform="translate(413.10 213.70) scale(0.95 1)" class="R" font-size="6.8" dominant-baseline="central" fill="#111" stroke="#111" stroke-width="0.25">Fold change:</text>
<text x="0" y="0" transform="translate(446.85 213.70) scale(0.95 1)" class="R" font-size="6.8" dominant-baseline="central" fill="#404040" stroke="none">1.3</text>
<text x="0" y="0" transform="translate(481.70 246.00) scale(0.920 1)" class="S" font-size="5.2" font-weight="bold" text-anchor="end" stroke="#222" dominant-baseline="central">AUC:</text>
<text x="0" y="0" transform="translate(494.00 246.00) scale(0.930 1)" class="R" font-size="5.8" text-anchor="middle" fill="#333" stroke="#333" dominant-baseline="central">0.557</text>
<text x="0" y="0" transform="translate(481.70 253.00) scale(0.920 1)" class="S" font-size="5.2" font-weight="bold" text-anchor="end" stroke="#222" dominant-baseline="central">p-value:</text>
<text x="0" y="0" transform="translate(501.70 252.00) scale(0.930 1)" class="R" font-size="5.8" fill="#333" stroke="#333" dominant-baseline="central">1.4 x 10<tspan font-size="3.8" dy="-1.8">-02</tspan></text>
<text x="0" y="0" transform="translate(481.70 260.00) scale(0.920 1)" class="S" font-size="5.2" font-weight="bold" text-anchor="end" stroke="#222" dominant-baseline="central">strongest cutoff:</text>
<text x="0" y="0" transform="translate(494.00 260.00) scale(0.930 1)" class="R" font-size="5.8" text-anchor="middle" fill="#333" stroke="#333" dominant-baseline="central">203</text>
<text x="0" y="0" transform="translate(481.70 267.00) scale(0.920 1)" class="S" font-size="5.2" font-style="italic" text-anchor="end" fill="#333" stroke="#333" dominant-baseline="central">TPR:</text>
<text x="0" y="0" transform="translate(494.00 267.00) scale(0.930 1)" class="R" font-size="5.8" text-anchor="middle" fill="#333" stroke="#333" dominant-baseline="central">0.62</text>
<text x="0" y="0" transform="translate(481.70 273.80) scale(0.920 1)" class="S" font-size="5.2" font-style="italic" text-anchor="end" fill="#333" stroke="#333" dominant-baseline="central">TNR:</text>
<text x="0" y="0" transform="translate(494.00 273.80) scale(0.930 1)" class="R" font-size="5.8" text-anchor="middle" fill="#333" stroke="#333" dominant-baseline="central">0.52</text>
<line x1="146.70" y1="317.90" x2="243.20" y2="317.90" stroke="#8c8c8c" stroke-width="1"/>
<line x1="146.70" y1="317.90" x2="146.70" y2="405.70" stroke="#8c8c8c" stroke-width="1"/>
<line x1="146.70" y1="405.70" x2="243.20" y2="405.70" stroke="#8c8c8c" stroke-width="1"/>
<line x1="243.20" y1="317.90" x2="243.20" y2="405.70" stroke="#8c8c8c" stroke-width="1"/>
<line x1="144.50" y1="403.10" x2="146.70" y2="403.10" stroke="#8c8c8c" stroke-width="1"/>
<text x="0" y="0" transform="translate(140.70 403.10) rotate(-90) scale(1 0.900)" class="S" font-size="7.0" text-anchor="middle" fill="#333" stroke="#333" dominant-baseline="central">0.0</text>
<line x1="150.60" y1="405.70" x2="150.60" y2="407.90" stroke="#8c8c8c" stroke-width="1"/>
<text x="0" y="0" transform="translate(150.60 411.80) scale(0.880 1)" class="S" font-size="6.9" text-anchor="middle" fill="#333" stroke="#333" dominant-baseline="central">1.0</text>
<line x1="144.50" y1="386.60" x2="146.70" y2="386.60" stroke="#8c8c8c" stroke-width="1"/>
<text x="0" y="0" transform="translate(140.70 386.60) rotate(-90) scale(1 0.900)" class="S" font-size="7.0" text-anchor="middle" fill="#333" stroke="#333" dominant-baseline="central">0.2</text>
<line x1="168.68" y1="405.70" x2="168.68" y2="407.90" stroke="#8c8c8c" stroke-width="1"/>
<text x="0" y="0" transform="translate(168.68 411.80) scale(0.880 1)" class="S" font-size="6.9" text-anchor="middle" fill="#333" stroke="#333" dominant-baseline="central">0.8</text>
<line x1="144.50" y1="370.10" x2="146.70" y2="370.10" stroke="#8c8c8c" stroke-width="1"/>
<text x="0" y="0" transform="translate(140.70 370.10) rotate(-90) scale(1 0.900)" class="S" font-size="7.0" text-anchor="middle" fill="#333" stroke="#333" dominant-baseline="central">0.4</text>
<line x1="186.76" y1="405.70" x2="186.76" y2="407.90" stroke="#8c8c8c" stroke-width="1"/>
<text x="0" y="0" transform="translate(186.76 411.80) scale(0.880 1)" class="S" font-size="6.9" text-anchor="middle" fill="#333" stroke="#333" dominant-baseline="central">0.6</text>
<line x1="144.50" y1="353.60" x2="146.70" y2="353.60" stroke="#8c8c8c" stroke-width="1"/>
<text x="0" y="0" transform="translate(140.70 353.60) rotate(-90) scale(1 0.900)" class="S" font-size="7.0" text-anchor="middle" fill="#333" stroke="#333" dominant-baseline="central">0.6</text>
<line x1="204.84" y1="405.70" x2="204.84" y2="407.90" stroke="#8c8c8c" stroke-width="1"/>
<text x="0" y="0" transform="translate(204.84 411.80) scale(0.880 1)" class="S" font-size="6.9" text-anchor="middle" fill="#333" stroke="#333" dominant-baseline="central">0.4</text>
<line x1="144.50" y1="337.10" x2="146.70" y2="337.10" stroke="#8c8c8c" stroke-width="1"/>
<text x="0" y="0" transform="translate(140.70 337.10) rotate(-90) scale(1 0.900)" class="S" font-size="7.0" text-anchor="middle" fill="#333" stroke="#333" dominant-baseline="central">0.8</text>
<line x1="222.92" y1="405.70" x2="222.92" y2="407.90" stroke="#8c8c8c" stroke-width="1"/>
<text x="0" y="0" transform="translate(222.92 411.80) scale(0.880 1)" class="S" font-size="6.9" text-anchor="middle" fill="#333" stroke="#333" dominant-baseline="central">0.2</text>
<line x1="144.50" y1="320.60" x2="146.70" y2="320.60" stroke="#8c8c8c" stroke-width="1"/>
<text x="0" y="0" transform="translate(140.70 320.60) rotate(-90) scale(1 0.900)" class="S" font-size="7.0" text-anchor="middle" fill="#333" stroke="#333" dominant-baseline="central">1.0</text>
<line x1="241.00" y1="405.70" x2="241.00" y2="407.90" stroke="#8c8c8c" stroke-width="1"/>
<text x="0" y="0" transform="translate(241.00 411.80) scale(0.880 1)" class="S" font-size="6.9" text-anchor="middle" fill="#333" stroke="#333" dominant-baseline="central">0.0</text>
<line x1="150.60" y1="403.10" x2="241.00" y2="320.60" stroke="#555" stroke-width="0.7" stroke-dasharray="1.2,0.9"/>
<polyline points="150.60,403.10 150.60,397.25 158.40,397.25 158.40,394.50 162.50,394.50 162.50,388.75 167.50,388.75 167.50,383.10 171.25,383.10 171.25,377.50 175.60,377.50 175.60,374.60 180.30,374.60 180.30,366.60 184.80,366.60 184.80,363.60 191.70,363.60 191.70,360.50 197.70,360.50 197.70,358.30 205.30,358.30 205.30,352.20 209.80,352.20 209.80,343.90 213.60,343.90 213.60,335.50 218.20,335.50 218.20,326.50 222.00,326.50 222.00,323.40 226.50,323.40 226.50,321.20 240.20,321.20" fill="none" stroke="#ff6a6a" stroke-width="1.0" stroke-linejoin="round" stroke-linecap="round" stroke-linecap="butt" stroke-linejoin="miter"/>
<circle cx="184.5" cy="363.8" r="1.1" fill="none" stroke="#666" stroke-width="0.6"/>
<text x="0" y="0" transform="translate(194.70 311.80) scale(0.925 1)" class="S" font-size="6.7" font-weight="bold" text-anchor="middle" fill="#111" stroke="#111" dominant-baseline="central">202094_at</text>
<text x="0" y="0" transform="translate(132.00 360.60) rotate(-90) scale(1 0.950)" class="S" font-size="7.3" font-weight="bold" text-anchor="middle" stroke="#222" dominant-baseline="central">Sensitivity</text>
<text x="0" y="0" transform="translate(194.90 419.80) scale(0.940 1)" class="S" font-size="7.5" font-weight="bold" text-anchor="middle" stroke="#222" dominant-baseline="central">Specificity</text>
<text x="0" y="0" transform="translate(151.90 323.35) scale(0.95 1)" class="R" font-size="6.8" dominant-baseline="central" fill="#111" stroke="#111" stroke-width="0.25">Treatment:</text>
<text x="0" y="0" transform="translate(181.51 323.35) scale(0.95 1)" class="R" font-size="6.8" dominant-baseline="central" fill="#404040" stroke="none">any Anti-HER2</text>
<text x="0" y="0" transform="translate(151.90 330.20) scale(0.95 1)" class="R" font-size="6.8" dominant-baseline="central" fill="#111" stroke="#111" stroke-width="0.25">Subtype:</text>
<text x="0" y="0" transform="translate(176.37 330.20) scale(0.95 1)" class="R" font-size="6.8" dominant-baseline="central" fill="#404040" stroke="none">All</text>
<text x="0" y="0" transform="translate(151.90 336.85) scale(0.95 1)" class="R" font-size="6.8" dominant-baseline="central" fill="#111" stroke="#111" stroke-width="0.25">Response:</text>
<text x="0" y="0" transform="translate(179.96 336.85) scale(0.95 1)" class="R" font-size="6.8" dominant-baseline="central" fill="#404040" stroke="none">RFS</text>
<text x="0" y="0" transform="translate(151.90 343.60) scale(0.95 1)" class="R" font-size="6.8" dominant-baseline="central" fill="#111" stroke="#111" stroke-width="0.25">Fold change:</text>
<text x="0" y="0" transform="translate(185.65 343.60) scale(0.95 1)" class="R" font-size="6.8" dominant-baseline="central" fill="#404040" stroke="none">1.1</text>
<text x="0" y="0" transform="translate(219.00 372.80) scale(0.920 1)" class="S" font-size="5.2" font-weight="bold" text-anchor="end" stroke="#222" dominant-baseline="central">AUC:</text>
<text x="0" y="0" transform="translate(230.50 372.80) scale(0.930 1)" class="R" font-size="5.8" text-anchor="middle" fill="#333" stroke="#333" dominant-baseline="central">0.544</text>
<text x="0" y="0" transform="translate(219.00 379.40) scale(0.920 1)" class="S" font-size="5.2" font-weight="bold" text-anchor="end" stroke="#222" dominant-baseline="central">p-value:</text>
<text x="0" y="0" transform="translate(230.50 379.40) scale(0.930 1)" class="R" font-size="5.8" text-anchor="middle" fill="#333" stroke="#333" dominant-baseline="central">0.31</text>
<text x="0" y="0" transform="translate(219.00 385.80) scale(0.920 1)" class="S" font-size="5.2" font-weight="bold" text-anchor="end" stroke="#222" dominant-baseline="central">strongest cutoff:</text>
<text x="0" y="0" transform="translate(230.50 385.80) scale(0.930 1)" class="R" font-size="5.8" text-anchor="middle" fill="#333" stroke="#333" dominant-baseline="central">314</text>
<text x="0" y="0" transform="translate(219.00 392.30) scale(0.920 1)" class="S" font-size="5.2" font-style="italic" text-anchor="end" fill="#333" stroke="#333" dominant-baseline="central">TPR:</text>
<text x="0" y="0" transform="translate(230.50 392.30) scale(0.930 1)" class="R" font-size="5.8" text-anchor="middle" fill="#333" stroke="#333" dominant-baseline="central">0.48</text>
<text x="0" y="0" transform="translate(219.00 399.10) scale(0.920 1)" class="S" font-size="5.2" font-style="italic" text-anchor="end" fill="#333" stroke="#333" dominant-baseline="central">TNR:</text>
<text x="0" y="0" transform="translate(230.50 399.10) scale(0.930 1)" class="R" font-size="5.8" text-anchor="middle" fill="#333" stroke="#333" dominant-baseline="central">0.62</text>
<line x1="397.90" y1="314.70" x2="497.00" y2="314.70" stroke="#8c8c8c" stroke-width="1"/>
<line x1="397.90" y1="314.70" x2="397.90" y2="405.70" stroke="#8c8c8c" stroke-width="1"/>
<line x1="397.90" y1="405.70" x2="497.00" y2="405.70" stroke="#8c8c8c" stroke-width="1"/>
<line x1="497.00" y1="314.70" x2="497.00" y2="405.70" stroke="#8c8c8c" stroke-width="1"/>
<line x1="395.70" y1="402.50" x2="397.90" y2="402.50" stroke="#8c8c8c" stroke-width="1"/>
<text x="0" y="0" transform="translate(390.70 402.50) rotate(-90) scale(1 0.900)" class="S" font-size="7.0" text-anchor="middle" fill="#333" stroke="#333" dominant-baseline="central">0.0</text>
<line x1="401.50" y1="405.70" x2="401.50" y2="407.90" stroke="#8c8c8c" stroke-width="1"/>
<text x="0" y="0" transform="translate(401.50 411.50) scale(0.880 1)" class="S" font-size="6.9" text-anchor="middle" fill="#333" stroke="#333" dominant-baseline="central">1.0</text>
<line x1="395.70" y1="385.50" x2="397.90" y2="385.50" stroke="#8c8c8c" stroke-width="1"/>
<text x="0" y="0" transform="translate(390.70 385.50) rotate(-90) scale(1 0.900)" class="S" font-size="7.0" text-anchor="middle" fill="#333" stroke="#333" dominant-baseline="central">0.2</text>
<line x1="419.86" y1="405.70" x2="419.86" y2="407.90" stroke="#8c8c8c" stroke-width="1"/>
<text x="0" y="0" transform="translate(419.86 411.50) scale(0.880 1)" class="S" font-size="6.9" text-anchor="middle" fill="#333" stroke="#333" dominant-baseline="central">0.8</text>
<line x1="395.70" y1="368.50" x2="397.90" y2="368.50" stroke="#8c8c8c" stroke-width="1"/>
<text x="0" y="0" transform="translate(390.70 368.50) rotate(-90) scale(1 0.900)" class="S" font-size="7.0" text-anchor="middle" fill="#333" stroke="#333" dominant-baseline="central">0.4</text>
<line x1="438.22" y1="405.70" x2="438.22" y2="407.90" stroke="#8c8c8c" stroke-width="1"/>
<text x="0" y="0" transform="translate(438.22 411.50) scale(0.880 1)" class="S" font-size="6.9" text-anchor="middle" fill="#333" stroke="#333" dominant-baseline="central">0.6</text>
<line x1="395.70" y1="351.50" x2="397.90" y2="351.50" stroke="#8c8c8c" stroke-width="1"/>
<text x="0" y="0" transform="translate(390.70 351.50) rotate(-90) scale(1 0.900)" class="S" font-size="7.0" text-anchor="middle" fill="#333" stroke="#333" dominant-baseline="central">0.6</text>
<line x1="456.58" y1="405.70" x2="456.58" y2="407.90" stroke="#8c8c8c" stroke-width="1"/>
<text x="0" y="0" transform="translate(456.58 411.50) scale(0.880 1)" class="S" font-size="6.9" text-anchor="middle" fill="#333" stroke="#333" dominant-baseline="central">0.4</text>
<line x1="395.70" y1="334.50" x2="397.90" y2="334.50" stroke="#8c8c8c" stroke-width="1"/>
<text x="0" y="0" transform="translate(390.70 334.50) rotate(-90) scale(1 0.900)" class="S" font-size="7.0" text-anchor="middle" fill="#333" stroke="#333" dominant-baseline="central">0.8</text>
<line x1="474.94" y1="405.70" x2="474.94" y2="407.90" stroke="#8c8c8c" stroke-width="1"/>
<text x="0" y="0" transform="translate(474.94 411.50) scale(0.880 1)" class="S" font-size="6.9" text-anchor="middle" fill="#333" stroke="#333" dominant-baseline="central">0.2</text>
<line x1="395.70" y1="317.50" x2="397.90" y2="317.50" stroke="#8c8c8c" stroke-width="1"/>
<text x="0" y="0" transform="translate(390.70 317.50) rotate(-90) scale(1 0.900)" class="S" font-size="7.0" text-anchor="middle" fill="#333" stroke="#333" dominant-baseline="central">1.0</text>
<line x1="493.30" y1="405.70" x2="493.30" y2="407.90" stroke="#8c8c8c" stroke-width="1"/>
<text x="0" y="0" transform="translate(493.30 411.50) scale(0.880 1)" class="S" font-size="6.9" text-anchor="middle" fill="#333" stroke="#333" dominant-baseline="central">0.0</text>
<line x1="401.50" y1="402.50" x2="493.30" y2="317.50" stroke="#555" stroke-width="0.7" stroke-dasharray="1.2,0.9"/>
<polyline points="401.20,402.50 406.00,397.50 411.20,393.40 413.10,384.00 417.80,373.60 421.00,372.30 425.40,372.60 430.10,367.90 433.00,366.90 436.80,362.20 440.60,358.40 447.20,356.50 448.10,354.00 453.80,352.70 461.40,347.00 467.10,342.30 472.80,340.40 478.40,340.00 480.30,335.70 484.10,328.10 487.90,322.40 489.80,319.60 493.60,318.60" fill="none" stroke="#ff6a6a" stroke-width="1.0" stroke-linejoin="round" stroke-linecap="round"/>
<circle cx="440.2" cy="358.6" r="1.1" fill="none" stroke="#666" stroke-width="0.6"/>
<text x="0" y="0" transform="translate(447.60 308.10) scale(0.925 1)" class="S" font-size="6.7" font-weight="bold" text-anchor="middle" fill="#111" stroke="#111" dominant-baseline="central">202094_at</text>
<text x="0" y="0" transform="translate(382.00 359.30) rotate(-90) scale(1 0.950)" class="S" font-size="7.3" font-weight="bold" text-anchor="middle" stroke="#222" dominant-baseline="central">Sensitivity</text>
<text x="0" y="0" transform="translate(447.80 420.00) scale(0.940 1)" class="S" font-size="7.5" font-weight="bold" text-anchor="middle" stroke="#222" dominant-baseline="central">Specificity</text>
<text x="0" y="0" transform="translate(404.75 319.60) scale(0.95 1)" class="R" font-size="6.8" dominant-baseline="central" fill="#111" stroke="#111" stroke-width="0.25">Treatment:</text>
<text x="0" y="0" transform="translate(434.36 319.60) scale(0.95 1)" class="R" font-size="6.8" dominant-baseline="central" fill="#404040" stroke="none">any Anti-HER2</text>
<text x="0" y="0" transform="translate(404.75 326.20) scale(0.95 1)" class="R" font-size="6.8" dominant-baseline="central" fill="#111" stroke="#111" stroke-width="0.25">Subtype:</text>
<text x="0" y="0" transform="translate(429.22 326.20) scale(0.95 1)" class="R" font-size="6.8" dominant-baseline="central" fill="#404040" stroke="none">All</text>
<text x="0" y="0" transform="translate(404.75 333.10) scale(0.95 1)" class="R" font-size="6.8" dominant-baseline="central" fill="#111" stroke="#111" stroke-width="0.25">Response:</text>
<text x="0" y="0" transform="translate(432.81 333.10) scale(0.95 1)" class="R" font-size="6.8" dominant-baseline="central" fill="#404040" stroke="none">Pathological</text>
<text x="0" y="0" transform="translate(404.75 339.85) scale(0.95 1)" class="R" font-size="6.8" dominant-baseline="central" fill="#111" stroke="#111" stroke-width="0.25">Fold change:</text>
<text x="0" y="0" transform="translate(438.50 339.85) scale(0.95 1)" class="R" font-size="6.8" dominant-baseline="central" fill="#404040" stroke="none">1.1</text>
<text x="0" y="0" transform="translate(472.50 370.90) scale(0.920 1)" class="S" font-size="5.2" font-weight="bold" text-anchor="end" stroke="#222" dominant-baseline="central">AUC:</text>
<text x="0" y="0" transform="translate(484.50 370.90) scale(0.930 1)" class="R" font-size="5.8" text-anchor="middle" fill="#333" stroke="#333" dominant-baseline="central">0.528</text>
<text x="0" y="0" transform="translate(472.50 377.90) scale(0.920 1)" class="S" font-size="5.2" font-weight="bold" text-anchor="end" stroke="#222" dominant-baseline="central">p-value:</text>
<text x="0" y="0" transform="translate(484.50 377.90) scale(0.930 1)" class="R" font-size="5.8" text-anchor="middle" fill="#333" stroke="#333" dominant-baseline="central">0.25</text>
<text x="0" y="0" transform="translate(472.50 384.50) scale(0.920 1)" class="S" font-size="5.2" font-weight="bold" text-anchor="end" stroke="#222" dominant-baseline="central">strongest cutoff:</text>
<text x="0" y="0" transform="translate(484.50 384.50) scale(0.930 1)" class="R" font-size="5.8" text-anchor="middle" fill="#333" stroke="#333" dominant-baseline="central">180</text>
<text x="0" y="0" transform="translate(472.50 391.50) scale(0.920 1)" class="S" font-size="5.2" font-style="italic" text-anchor="end" fill="#333" stroke="#333" dominant-baseline="central">TPR:</text>
<text x="0" y="0" transform="translate(484.50 391.50) scale(0.930 1)" class="R" font-size="5.8" text-anchor="middle" fill="#333" stroke="#333" dominant-baseline="central">0.51</text>
<text x="0" y="0" transform="translate(472.50 398.20) scale(0.920 1)" class="S" font-size="5.2" font-style="italic" text-anchor="end" fill="#333" stroke="#333" dominant-baseline="central">TNR:</text>
<text x="0" y="0" transform="translate(484.50 398.20) scale(0.930 1)" class="R" font-size="5.8" text-anchor="middle" fill="#333" stroke="#333" dominant-baseline="central">0.58</text>
<line x1="147.00" y1="439.30" x2="243.50" y2="439.30" stroke="#8c8c8c" stroke-width="1"/>
<line x1="147.00" y1="439.30" x2="147.00" y2="527.70" stroke="#8c8c8c" stroke-width="1"/>
<line x1="147.00" y1="527.70" x2="243.50" y2="527.70" stroke="#8c8c8c" stroke-width="1"/>
<line x1="243.50" y1="439.30" x2="243.50" y2="527.70" stroke="#8c8c8c" stroke-width="1"/>
<line x1="144.80" y1="524.60" x2="147.00" y2="524.60" stroke="#8c8c8c" stroke-width="1"/>
<text x="0" y="0" transform="translate(140.70 524.60) rotate(-90) scale(1 0.900)" class="S" font-size="7.0" text-anchor="middle" fill="#333" stroke="#333" dominant-baseline="central">0.0</text>
<line x1="150.60" y1="527.70" x2="150.60" y2="529.90" stroke="#8c8c8c" stroke-width="1"/>
<text x="0" y="0" transform="translate(150.60 533.50) scale(0.880 1)" class="S" font-size="6.9" text-anchor="middle" fill="#333" stroke="#333" dominant-baseline="central">1.0</text>
<line x1="144.80" y1="508.00" x2="147.00" y2="508.00" stroke="#8c8c8c" stroke-width="1"/>
<text x="0" y="0" transform="translate(140.70 508.00) rotate(-90) scale(1 0.900)" class="S" font-size="7.0" text-anchor="middle" fill="#333" stroke="#333" dominant-baseline="central">0.2</text>
<line x1="168.68" y1="527.70" x2="168.68" y2="529.90" stroke="#8c8c8c" stroke-width="1"/>
<text x="0" y="0" transform="translate(168.68 533.50) scale(0.880 1)" class="S" font-size="6.9" text-anchor="middle" fill="#333" stroke="#333" dominant-baseline="central">0.8</text>
<line x1="144.80" y1="491.40" x2="147.00" y2="491.40" stroke="#8c8c8c" stroke-width="1"/>
<text x="0" y="0" transform="translate(140.70 491.40) rotate(-90) scale(1 0.900)" class="S" font-size="7.0" text-anchor="middle" fill="#333" stroke="#333" dominant-baseline="central">0.4</text>
<line x1="186.76" y1="527.70" x2="186.76" y2="529.90" stroke="#8c8c8c" stroke-width="1"/>
<text x="0" y="0" transform="translate(186.76 533.50) scale(0.880 1)" class="S" font-size="6.9" text-anchor="middle" fill="#333" stroke="#333" dominant-baseline="central">0.6</text>
<line x1="144.80" y1="474.80" x2="147.00" y2="474.80" stroke="#8c8c8c" stroke-width="1"/>
<text x="0" y="0" transform="translate(140.70 474.80) rotate(-90) scale(1 0.900)" class="S" font-size="7.0" text-anchor="middle" fill="#333" stroke="#333" dominant-baseline="central">0.6</text>
<line x1="204.84" y1="527.70" x2="204.84" y2="529.90" stroke="#8c8c8c" stroke-width="1"/>
<text x="0" y="0" transform="translate(204.84 533.50) scale(0.880 1)" class="S" font-size="6.9" text-anchor="middle" fill="#333" stroke="#333" dominant-baseline="central">0.4</text>
<line x1="144.80" y1="458.20" x2="147.00" y2="458.20" stroke="#8c8c8c" stroke-width="1"/>
<text x="0" y="0" transform="translate(140.70 458.20) rotate(-90) scale(1 0.900)" class="S" font-size="7.0" text-anchor="middle" fill="#333" stroke="#333" dominant-baseline="central">0.8</text>
<line x1="222.92" y1="527.70" x2="222.92" y2="529.90" stroke="#8c8c8c" stroke-width="1"/>
<text x="0" y="0" transform="translate(222.92 533.50) scale(0.880 1)" class="S" font-size="6.9" text-anchor="middle" fill="#333" stroke="#333" dominant-baseline="central">0.2</text>
<line x1="144.80" y1="441.60" x2="147.00" y2="441.60" stroke="#8c8c8c" stroke-width="1"/>
<text x="0" y="0" transform="translate(140.70 441.60) rotate(-90) scale(1 0.900)" class="S" font-size="7.0" text-anchor="middle" fill="#333" stroke="#333" dominant-baseline="central">1.0</text>
<line x1="241.00" y1="527.70" x2="241.00" y2="529.90" stroke="#8c8c8c" stroke-width="1"/>
<text x="0" y="0" transform="translate(241.00 533.50) scale(0.880 1)" class="S" font-size="6.9" text-anchor="middle" fill="#333" stroke="#333" dominant-baseline="central">0.0</text>
<line x1="150.60" y1="524.60" x2="241.00" y2="441.60" stroke="#555" stroke-width="0.7" stroke-dasharray="1.2,0.9"/>
<polyline points="150.60,524.60 150.60,520.25 155.60,520.25 155.60,516.25 161.25,516.25 161.25,515.90 164.40,515.90 164.40,507.10 168.10,507.10 168.10,498.75 173.40,498.75 173.40,494.60 179.50,494.60 179.50,490.60 181.80,490.60 181.80,487.60 185.60,487.60 185.60,484.50 188.60,484.50 188.60,481.50 199.20,481.50 199.20,480.00 201.50,480.00 201.50,459.50 207.60,459.50 207.60,456.50 211.40,456.50 211.40,455.00 218.90,455.00 218.90,451.20 223.50,451.20 223.50,447.40 237.10,447.40 237.10,445.90 239.80,445.90 239.80,442.90" fill="none" stroke="#ff6a6a" stroke-width="1.0" stroke-linejoin="round" stroke-linecap="round" stroke-linecap="butt" stroke-linejoin="miter"/>
<text x="0" y="0" transform="translate(195.10 433.20) scale(0.925 1)" class="S" font-size="6.7" font-weight="bold" text-anchor="middle" fill="#111" stroke="#111" dominant-baseline="central">202094_at</text>
<text x="0" y="0" transform="translate(132.00 483.00) rotate(-90) scale(1 0.950)" class="S" font-size="7.3" font-weight="bold" text-anchor="middle" stroke="#222" dominant-baseline="central">Sensitivity</text>
<text x="0" y="0" transform="translate(194.90 541.30) scale(0.940 1)" class="S" font-size="7.5" font-weight="bold" text-anchor="middle" stroke="#222" dominant-baseline="central">Specificity</text>
<text x="0" y="0" transform="translate(150.60 444.35) scale(0.95 1)" class="R" font-size="6.8" dominant-baseline="central" fill="#111" stroke="#111" stroke-width="0.25">Treatment:</text>
<text x="0" y="0" transform="translate(180.21 444.35) scale(0.95 1)" class="R" font-size="6.8" dominant-baseline="central" fill="#404040" stroke="none">any endotherapy</text>
<text x="0" y="0" transform="translate(150.60 451.00) scale(0.95 1)" class="R" font-size="6.8" dominant-baseline="central" fill="#111" stroke="#111" stroke-width="0.25">Subtype:</text>
<text x="0" y="0" transform="translate(175.07 451.00) scale(0.95 1)" class="R" font-size="6.8" dominant-baseline="central" fill="#404040" stroke="none">All</text>
<text x="0" y="0" transform="translate(150.60 457.50) scale(0.95 1)" class="R" font-size="6.8" dominant-baseline="central" fill="#111" stroke="#111" stroke-width="0.25">Response:</text>
<text x="0" y="0" transform="translate(178.66 457.50) scale(0.95 1)" class="R" font-size="6.8" dominant-baseline="central" fill="#404040" stroke="none">Pathological</text>
<text x="0" y="0" transform="translate(150.60 463.70) scale(0.95 1)" class="R" font-size="6.8" dominant-baseline="central" fill="#111" stroke="#111" stroke-width="0.25">Fold change:</text>
<text x="0" y="0" transform="translate(184.35 463.70) scale(0.95 1)" class="R" font-size="6.8" dominant-baseline="central" fill="#404040" stroke="none">1.2</text>
<text x="0" y="0" transform="translate(218.60 494.30) scale(0.920 1)" class="S" font-size="5.2" font-weight="bold" text-anchor="end" stroke="#222" dominant-baseline="central">AUC:</text>
<text x="0" y="0" transform="translate(230.50 494.30) scale(0.930 1)" class="R" font-size="5.8" text-anchor="middle" fill="#333" stroke="#333" dominant-baseline="central">0.562</text>
<text x="0" y="0" transform="translate(218.60 501.00) scale(0.920 1)" class="S" font-size="5.2" font-weight="bold" text-anchor="end" stroke="#222" dominant-baseline="central">p-value:</text>
<text x="0" y="0" transform="translate(230.50 501.00) scale(0.930 1)" class="R" font-size="5.8" text-anchor="middle" fill="#333" stroke="#333" dominant-baseline="central">0.21</text>
<text x="0" y="0" transform="translate(218.60 507.20) scale(0.920 1)" class="S" font-size="5.2" font-weight="bold" text-anchor="end" stroke="#222" dominant-baseline="central">strongest cutoff:</text>
<text x="0" y="0" transform="translate(230.50 507.20) scale(0.930 1)" class="R" font-size="5.8" text-anchor="middle" fill="#333" stroke="#333" dominant-baseline="central">215</text>
<text x="0" y="0" transform="translate(218.60 513.90) scale(0.920 1)" class="S" font-size="5.2" font-style="italic" text-anchor="end" fill="#333" stroke="#333" dominant-baseline="central">TPR:</text>
<text x="0" y="0" transform="translate(230.50 513.90) scale(0.930 1)" class="R" font-size="5.8" text-anchor="middle" fill="#333" stroke="#333" dominant-baseline="central">0.79</text>
<text x="0" y="0" transform="translate(218.60 520.80) scale(0.920 1)" class="S" font-size="5.2" font-style="italic" text-anchor="end" fill="#333" stroke="#333" dominant-baseline="central">TNR:</text>
<text x="0" y="0" transform="translate(230.50 520.80) scale(0.930 1)" class="R" font-size="5.8" text-anchor="middle" fill="#333" stroke="#333" dominant-baseline="central">0.42</text>
<line x1="397.75" y1="436.70" x2="497.20" y2="436.70" stroke="#8c8c8c" stroke-width="1"/>
<line x1="397.75" y1="436.70" x2="397.75" y2="527.80" stroke="#8c8c8c" stroke-width="1"/>
<line x1="397.75" y1="527.80" x2="497.20" y2="527.80" stroke="#8c8c8c" stroke-width="1"/>
<line x1="497.20" y1="436.70" x2="497.20" y2="527.80" stroke="#8c8c8c" stroke-width="1"/>
<line x1="395.55" y1="525.00" x2="397.75" y2="525.00" stroke="#8c8c8c" stroke-width="1"/>
<text x="0" y="0" transform="translate(390.70 525.00) rotate(-90) scale(1 0.900)" class="S" font-size="7.0" text-anchor="middle" fill="#333" stroke="#333" dominant-baseline="central">0.0</text>
<line x1="401.50" y1="527.80" x2="401.50" y2="530.00" stroke="#8c8c8c" stroke-width="1"/>
<text x="0" y="0" transform="translate(401.50 534.20) scale(0.880 1)" class="S" font-size="6.9" text-anchor="middle" fill="#333" stroke="#333" dominant-baseline="central">1.0</text>
<line x1="395.55" y1="508.00" x2="397.75" y2="508.00" stroke="#8c8c8c" stroke-width="1"/>
<text x="0" y="0" transform="translate(390.70 508.00) rotate(-90) scale(1 0.900)" class="S" font-size="7.0" text-anchor="middle" fill="#333" stroke="#333" dominant-baseline="central">0.2</text>
<line x1="419.86" y1="527.80" x2="419.86" y2="530.00" stroke="#8c8c8c" stroke-width="1"/>
<text x="0" y="0" transform="translate(419.86 534.20) scale(0.880 1)" class="S" font-size="6.9" text-anchor="middle" fill="#333" stroke="#333" dominant-baseline="central">0.8</text>
<line x1="395.55" y1="491.00" x2="397.75" y2="491.00" stroke="#8c8c8c" stroke-width="1"/>
<text x="0" y="0" transform="translate(390.70 491.00) rotate(-90) scale(1 0.900)" class="S" font-size="7.0" text-anchor="middle" fill="#333" stroke="#333" dominant-baseline="central">0.4</text>
<line x1="438.22" y1="527.80" x2="438.22" y2="530.00" stroke="#8c8c8c" stroke-width="1"/>
<text x="0" y="0" transform="translate(438.22 534.20) scale(0.880 1)" class="S" font-size="6.9" text-anchor="middle" fill="#333" stroke="#333" dominant-baseline="central">0.6</text>
<line x1="395.55" y1="474.00" x2="397.75" y2="474.00" stroke="#8c8c8c" stroke-width="1"/>
<text x="0" y="0" transform="translate(390.70 474.00) rotate(-90) scale(1 0.900)" class="S" font-size="7.0" text-anchor="middle" fill="#333" stroke="#333" dominant-baseline="central">0.6</text>
<line x1="456.58" y1="527.80" x2="456.58" y2="530.00" stroke="#8c8c8c" stroke-width="1"/>
<text x="0" y="0" transform="translate(456.58 534.20) scale(0.880 1)" class="S" font-size="6.9" text-anchor="middle" fill="#333" stroke="#333" dominant-baseline="central">0.4</text>
<line x1="395.55" y1="457.00" x2="397.75" y2="457.00" stroke="#8c8c8c" stroke-width="1"/>
<text x="0" y="0" transform="translate(390.70 457.00) rotate(-90) scale(1 0.900)" class="S" font-size="7.0" text-anchor="middle" fill="#333" stroke="#333" dominant-baseline="central">0.8</text>
<line x1="474.94" y1="527.80" x2="474.94" y2="530.00" stroke="#8c8c8c" stroke-width="1"/>
<text x="0" y="0" transform="translate(474.94 534.20) scale(0.880 1)" class="S" font-size="6.9" text-anchor="middle" fill="#333" stroke="#333" dominant-baseline="central">0.2</text>
<line x1="395.55" y1="440.00" x2="397.75" y2="440.00" stroke="#8c8c8c" stroke-width="1"/>
<text x="0" y="0" transform="translate(390.70 440.00) rotate(-90) scale(1 0.900)" class="S" font-size="7.0" text-anchor="middle" fill="#333" stroke="#333" dominant-baseline="central">1.0</text>
<line x1="493.30" y1="527.80" x2="493.30" y2="530.00" stroke="#8c8c8c" stroke-width="1"/>
<text x="0" y="0" transform="translate(493.30 534.20) scale(0.880 1)" class="S" font-size="6.9" text-anchor="middle" fill="#333" stroke="#333" dominant-baseline="central">0.0</text>
<line x1="401.50" y1="525.00" x2="493.30" y2="440.00" stroke="#555" stroke-width="0.7" stroke-dasharray="1.2,0.9"/>
<polyline points="401.20,524.90 406.00,519.50 411.20,513.50 416.00,509.20 421.60,505.00 427.30,501.20 432.00,494.60 438.00,489.50 444.30,484.20 452.00,477.40 459.50,470.90 466.00,465.20 472.80,459.60 483.00,450.30 493.60,440.60" fill="none" stroke="#ff6a6a" stroke-width="1.0" stroke-linejoin="round" stroke-linecap="round"/>
<circle cx="444.5" cy="484" r="1.1" fill="none" stroke="#666" stroke-width="0.6"/>
<text x="0" y="0" transform="translate(447.60 430.20) scale(0.925 1)" class="S" font-size="6.7" font-weight="bold" text-anchor="middle" fill="#111" stroke="#111" dominant-baseline="central">202094_at</text>
<text x="0" y="0" transform="translate(382.00 480.60) rotate(-90) scale(1 0.950)" class="S" font-size="7.3" font-weight="bold" text-anchor="middle" stroke="#222" dominant-baseline="central">Sensitivity</text>
<text x="0" y="0" transform="translate(447.80 542.00) scale(0.940 1)" class="S" font-size="7.5" font-weight="bold" text-anchor="middle" stroke="#222" dominant-baseline="central">Specificity</text>
<text x="0" y="0" transform="translate(400.25 451.50) scale(0.95 1)" class="R" font-size="6.8" dominant-baseline="central" fill="#111" stroke="#111" stroke-width="0.25">Treatment:</text>
<text x="0" y="0" transform="translate(429.86 451.50) scale(0.95 1)" class="R" font-size="6.8" dominant-baseline="central" fill="#404040" stroke="none">any chemotherapy</text>
<text x="0" y="0" transform="translate(400.25 457.70) scale(0.95 1)" class="R" font-size="6.8" dominant-baseline="central" fill="#111" stroke="#111" stroke-width="0.25">Subtype:</text>
<text x="0" y="0" transform="translate(424.72 457.70) scale(0.95 1)" class="R" font-size="6.8" dominant-baseline="central" fill="#404040" stroke="none">All</text>
<text x="0" y="0" transform="translate(400.25 464.35) scale(0.95 1)" class="R" font-size="6.8" dominant-baseline="central" fill="#111" stroke="#111" stroke-width="0.25">Response:</text>
<text x="0" y="0" transform="translate(428.31 464.35) scale(0.95 1)" class="R" font-size="6.8" dominant-baseline="central" fill="#404040" stroke="none">Pathological</text>
<text x="0" y="0" transform="translate(400.25 470.85) scale(0.95 1)" class="R" font-size="6.8" dominant-baseline="central" fill="#111" stroke="#111" stroke-width="0.25">Fold change:</text>
<text x="0" y="0" transform="translate(434.00 470.85) scale(0.95 1)" class="R" font-size="6.8" dominant-baseline="central" fill="#404040" stroke="none">1.0</text>
<text x="0" y="0" transform="translate(472.00 493.50) scale(0.920 1)" class="S" font-size="5.2" font-weight="bold" text-anchor="end" stroke="#222" dominant-baseline="central">AUC:</text>
<text x="0" y="0" transform="translate(484.50 493.50) scale(0.930 1)" class="R" font-size="5.8" text-anchor="middle" fill="#333" stroke="#333" dominant-baseline="central">0.504</text>
<text x="0" y="0" transform="translate(472.00 500.30) scale(0.920 1)" class="S" font-size="5.2" font-weight="bold" text-anchor="end" stroke="#222" dominant-baseline="central">p-value:</text>
<text x="0" y="0" transform="translate(484.50 500.30) scale(0.930 1)" class="R" font-size="5.8" text-anchor="middle" fill="#333" stroke="#333" dominant-baseline="central">0.39</text>
<text x="0" y="0" transform="translate(472.00 506.80) scale(0.920 1)" class="S" font-size="5.2" font-weight="bold" text-anchor="end" stroke="#222" dominant-baseline="central">strongest cutoff:</text>
<text x="0" y="0" transform="translate(484.50 506.80) scale(0.930 1)" class="R" font-size="5.8" text-anchor="middle" fill="#333" stroke="#333" dominant-baseline="central">280</text>
<text x="0" y="0" transform="translate(472.00 513.90) scale(0.920 1)" class="S" font-size="5.2" font-style="italic" text-anchor="end" fill="#333" stroke="#333" dominant-baseline="central">TPR:</text>
<text x="0" y="0" transform="translate(484.50 513.90) scale(0.930 1)" class="R" font-size="5.8" text-anchor="middle" fill="#333" stroke="#333" dominant-baseline="central">0.48</text>
<text x="0" y="0" transform="translate(472.00 520.80) scale(0.920 1)" class="S" font-size="5.2" font-style="italic" text-anchor="end" fill="#333" stroke="#333" dominant-baseline="central">TNR:</text>
<text x="0" y="0" transform="translate(484.50 520.80) scale(0.930 1)" class="R" font-size="5.8" text-anchor="middle" fill="#333" stroke="#333" dominant-baseline="central">0.53</text>
</svg>
</body></html>
